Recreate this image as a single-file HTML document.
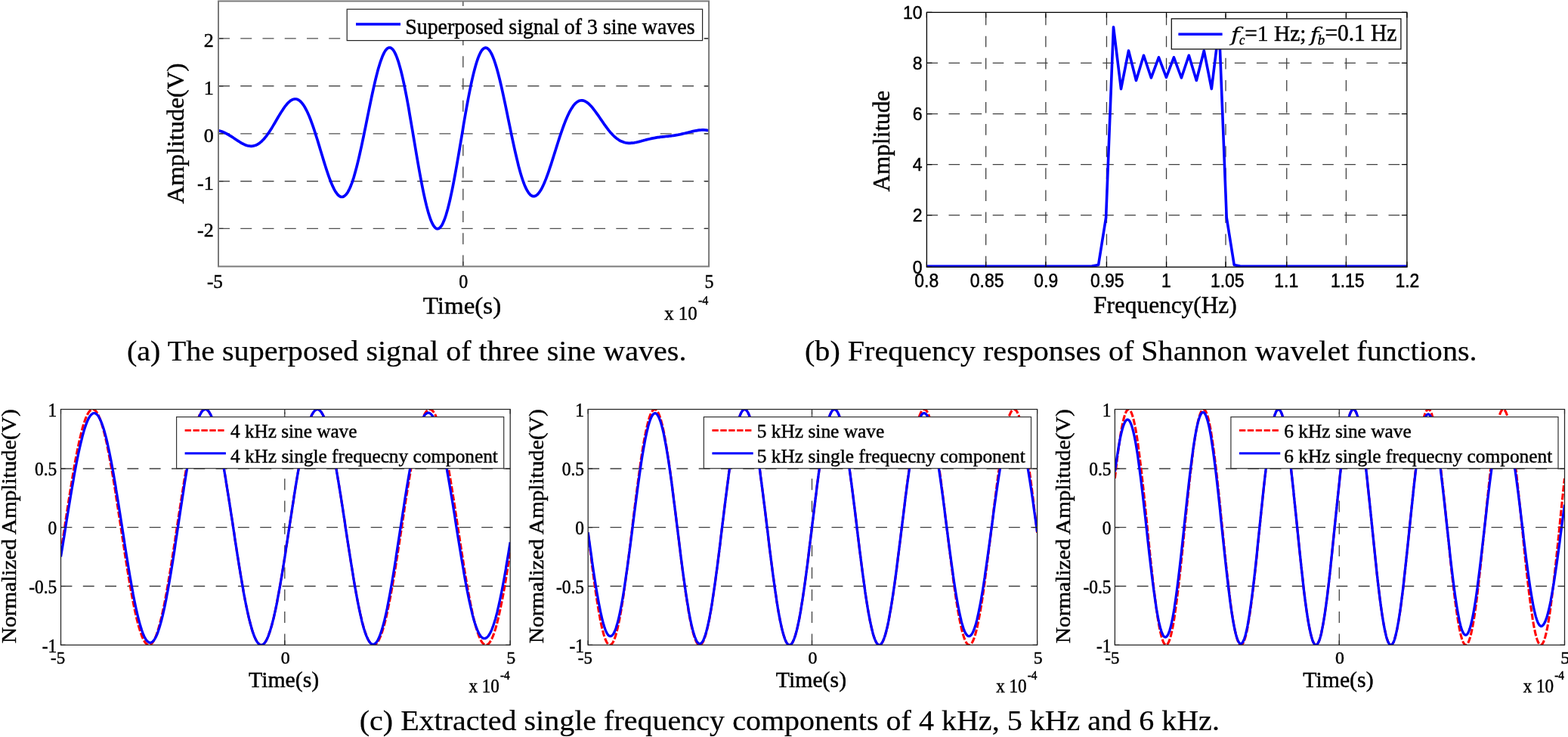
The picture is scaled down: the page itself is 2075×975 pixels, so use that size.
<!DOCTYPE html>
<html><head><meta charset="utf-8"><title>Figure</title>
<style>html,body{margin:0;padding:0;background:#fff;overflow:hidden}svg{display:block}</style>
</head><body>
<svg width="2075" height="975" viewBox="0 0 2075 975">
<rect width="2075" height="975" fill="#fff"/>
<defs><clipPath id="ca"><rect x="289.00" y="1.50" width="649.10" height="351.00"/></clipPath></defs>
<line x1="612.80" y1="352.50" x2="612.80" y2="1.50" stroke="#505050" stroke-width="1.4" stroke-dasharray="15 14.24"/>
<line x1="289.00" y1="302.40" x2="938.10" y2="302.40" stroke="#505050" stroke-width="1.4" stroke-dasharray="15 14.24"/>
<line x1="289.00" y1="239.70" x2="938.10" y2="239.70" stroke="#505050" stroke-width="1.4" stroke-dasharray="15 14.24"/>
<line x1="289.00" y1="176.90" x2="938.10" y2="176.90" stroke="#505050" stroke-width="1.4" stroke-dasharray="15 14.24"/>
<line x1="289.00" y1="113.80" x2="938.10" y2="113.80" stroke="#505050" stroke-width="1.4" stroke-dasharray="15 14.24"/>
<line x1="289.00" y1="50.90" x2="938.10" y2="50.90" stroke="#505050" stroke-width="1.4" stroke-dasharray="15 14.24"/>
<polyline points="289.0,172.7 290.3,173.0 291.6,173.4 292.9,173.8 294.2,174.3 295.5,174.8 296.8,175.4 298.1,176.0 299.4,176.6 300.7,177.3 302.0,178.0 303.3,178.8 304.6,179.6 305.9,180.4 307.2,181.2 308.5,182.1 309.8,183.0 311.1,183.8 312.4,184.7 313.7,185.6 315.0,186.4 316.3,187.2 317.6,188.1 318.9,188.8 320.2,189.6 321.5,190.2 322.8,190.9 324.1,191.5 325.3,192.0 326.6,192.4 327.9,192.8 329.2,193.0 330.5,193.2 331.8,193.3 333.1,193.3 334.4,193.2 335.7,193.0 337.0,192.6 338.3,192.2 339.6,191.6 340.9,191.0 342.2,190.2 343.5,189.3 344.8,188.2 346.1,187.1 347.4,185.8 348.7,184.5 350.0,183.0 351.3,181.4 352.6,179.8 353.9,178.0 355.2,176.2 356.5,174.2 357.8,172.2 359.1,170.2 360.4,168.1 361.7,165.9 363.0,163.7 364.3,161.5 365.6,159.3 366.9,157.0 368.2,154.8 369.5,152.6 370.8,150.5 372.1,148.4 373.4,146.4 374.7,144.4 376.0,142.5 377.3,140.7 378.6,139.1 379.9,137.5 381.2,136.1 382.5,134.9 383.8,133.8 385.1,132.8 386.4,132.1 387.7,131.5 389.0,131.2 390.3,131.0 391.6,131.0 392.9,131.3 394.2,131.8 395.5,132.5 396.8,133.4 398.0,134.6 399.3,136.0 400.6,137.6 401.9,139.4 403.2,141.5 404.5,143.8 405.8,146.3 407.1,149.0 408.4,151.9 409.7,155.0 411.0,158.3 412.3,161.8 413.6,165.4 414.9,169.2 416.2,173.0 417.5,177.1 418.8,181.2 420.1,185.3 421.4,189.6 422.7,193.9 424.0,198.2 425.3,202.5 426.6,206.8 427.9,211.1 429.2,215.4 430.5,219.5 431.8,223.6 433.1,227.5 434.4,231.3 435.7,235.0 437.0,238.5 438.3,241.8 439.6,244.9 440.9,247.7 442.2,250.3 443.5,252.7 444.8,254.7 446.1,256.5 447.4,258.0 448.7,259.1 450.0,259.9 451.3,260.4 452.6,260.5 453.9,260.3 455.2,259.7 456.5,258.8 457.8,257.5 459.1,255.9 460.4,253.9 461.7,251.5 463.0,248.8 464.3,245.7 465.6,242.3 466.9,238.6 468.2,234.5 469.4,230.2 470.7,225.6 472.0,220.7 473.3,215.5 474.6,210.1 475.9,204.5 477.2,198.7 478.5,192.8 479.8,186.7 481.1,180.5 482.4,174.2 483.7,167.8 485.0,161.3 486.3,154.9 487.6,148.5 488.9,142.1 490.2,135.8 491.5,129.6 492.8,123.5 494.1,117.6 495.4,111.8 496.7,106.3 498.0,101.0 499.3,95.9 500.6,91.1 501.9,86.7 503.2,82.5 504.5,78.8 505.8,75.3 507.1,72.3 508.4,69.7 509.7,67.4 511.0,65.7 512.3,64.3 513.6,63.4 514.9,63.0 516.2,63.0 517.5,63.5 518.8,64.4 520.1,65.8 521.4,67.7 522.7,70.1 524.0,72.9 525.3,76.1 526.6,79.8 527.9,83.9 529.2,88.4 530.5,93.2 531.8,98.5 533.1,104.1 534.4,110.0 535.7,116.3 537.0,122.8 538.3,129.5 539.6,136.5 540.9,143.7 542.1,151.1 543.4,158.6 544.7,166.2 546.0,173.8 547.3,181.6 548.6,189.3 549.9,197.0 551.2,204.7 552.5,212.2 553.8,219.7 555.1,227.0 556.4,234.1 557.7,241.0 559.0,247.7 560.3,254.1 561.6,260.2 562.9,265.9 564.2,271.4 565.5,276.4 566.8,281.1 568.1,285.3 569.4,289.2 570.7,292.5 572.0,295.4 573.3,297.9 574.6,299.8 575.9,301.3 577.2,302.2 578.5,302.7 579.8,302.6 581.1,302.1 582.4,301.0 583.7,299.4 585.0,297.4 586.3,294.8 587.6,291.8 588.9,288.4 590.2,284.5 591.5,280.1 592.8,275.4 594.1,270.2 595.4,264.8 596.7,258.9 598.0,252.8 599.3,246.3 600.6,239.6 601.9,232.7 603.2,225.5 604.5,218.2 605.8,210.8 607.1,203.2 608.4,195.6 609.7,187.9 611.0,180.2 612.3,172.5 613.5,164.8 614.8,157.3 616.1,149.8 617.4,142.5 618.7,135.4 620.0,128.5 621.3,121.8 622.6,115.4 623.9,109.2 625.2,103.4 626.5,97.8 627.8,92.7 629.1,87.9 630.4,83.5 631.7,79.5 633.0,75.9 634.3,72.7 635.6,70.0 636.9,67.7 638.2,65.9 639.5,64.6 640.8,63.7 642.1,63.2 643.4,63.3 644.7,63.8 646.0,64.7 647.3,66.1 648.6,67.9 649.9,70.1 651.2,72.7 652.5,75.8 653.8,79.2 655.1,83.0 656.4,87.1 657.7,91.5 659.0,96.3 660.3,101.3 661.6,106.5 662.9,112.0 664.2,117.7 665.5,123.6 666.8,129.6 668.1,135.7 669.4,141.9 670.7,148.2 672.0,154.6 673.3,160.9 674.6,167.2 675.9,173.5 677.2,179.8 678.5,185.9 679.8,191.9 681.1,197.8 682.4,203.5 683.7,209.0 685.0,214.4 686.2,219.5 687.5,224.3 688.8,228.9 690.1,233.2 691.4,237.2 692.7,241.0 694.0,244.4 695.3,247.4 696.6,250.2 697.9,252.6 699.2,254.6 700.5,256.3 701.8,257.7 703.1,258.7 704.4,259.4 705.7,259.7 707.0,259.7 708.3,259.3 709.6,258.6 710.9,257.6 712.2,256.3 713.5,254.7 714.8,252.8 716.1,250.7 717.4,248.3 718.7,245.6 720.0,242.7 721.3,239.6 722.6,236.4 723.9,232.9 725.2,229.3 726.5,225.6 727.8,221.7 729.1,217.8 730.4,213.7 731.7,209.6 733.0,205.5 734.3,201.4 735.6,197.2 736.9,193.1 738.2,189.0 739.5,184.9 740.8,180.9 742.1,177.1 743.4,173.3 744.7,169.6 746.0,166.0 747.3,162.6 748.6,159.3 749.9,156.2 751.2,153.3 752.5,150.5 753.8,147.9 755.1,145.6 756.4,143.4 757.7,141.4 758.9,139.6 760.2,138.1 761.5,136.7 762.8,135.6 764.1,134.6 765.4,133.9 766.7,133.3 768.0,133.0 769.3,132.9 770.6,132.9 771.9,133.1 773.2,133.5 774.5,134.1 775.8,134.8 777.1,135.7 778.4,136.7 779.7,137.9 781.0,139.2 782.3,140.6 783.6,142.0 784.9,143.6 786.2,145.3 787.5,147.0 788.8,148.8 790.1,150.6 791.4,152.4 792.7,154.3 794.0,156.2 795.3,158.1 796.6,160.0 797.9,161.9 799.2,163.8 800.5,165.6 801.8,167.4 803.1,169.2 804.4,170.9 805.7,172.6 807.0,174.2 808.3,175.7 809.6,177.1 810.9,178.5 812.2,179.8 813.5,181.0 814.8,182.1 816.1,183.2 817.4,184.1 818.7,185.0 820.0,185.8 821.3,186.5 822.6,187.1 823.9,187.6 825.2,188.1 826.5,188.5 827.8,188.8 829.1,189.0 830.3,189.2 831.6,189.3 832.9,189.3 834.2,189.3 835.5,189.2 836.8,189.1 838.1,189.0 839.4,188.8 840.7,188.5 842.0,188.3 843.3,188.0 844.6,187.7 845.9,187.4 847.2,187.0 848.5,186.7 849.8,186.3 851.1,186.0 852.4,185.6 853.7,185.3 855.0,184.9 856.3,184.6 857.6,184.3 858.9,184.0 860.2,183.7 861.5,183.4 862.8,183.1 864.1,182.8 865.4,182.6 866.7,182.4 868.0,182.1 869.3,181.9 870.6,181.7 871.9,181.6 873.2,181.4 874.5,181.2 875.8,181.1 877.1,180.9 878.4,180.8 879.7,180.7 881.0,180.5 882.3,180.4 883.6,180.3 884.9,180.1 886.2,180.0 887.5,179.8 888.8,179.7 890.1,179.5 891.4,179.3 892.7,179.1 894.0,178.9 895.3,178.7 896.6,178.5 897.9,178.2 899.2,178.0 900.5,177.7 901.8,177.4 903.0,177.1 904.3,176.8 905.6,176.5 906.9,176.2 908.2,175.9 909.5,175.5 910.8,175.2 912.1,174.9 913.4,174.5 914.7,174.2 916.0,173.9 917.3,173.6 918.6,173.3 919.9,173.0 921.2,172.8 922.5,172.6 923.8,172.4 925.1,172.2 926.4,172.1 927.7,172.0 929.0,171.9 930.3,171.9 931.6,171.9 932.9,172.0 934.2,172.1 935.5,172.3 936.8,172.5 938.1,172.7" fill="none" stroke="#0000ff" stroke-width="3.7" stroke-linejoin="round" clip-path="url(#ca)"/>
<path d="M289.00 352.50V346.00M289.00 1.50V8.00M612.80 352.50V346.00M612.80 1.50V8.00M938.10 352.50V346.00M938.10 1.50V8.00M289.00 302.40H295.50M938.10 302.40H931.60M289.00 239.70H295.50M938.10 239.70H931.60M289.00 176.90H295.50M938.10 176.90H931.60M289.00 113.80H295.50M938.10 113.80H931.60M289.00 50.90H295.50M938.10 50.90H931.60" stroke="#303030" stroke-width="1.2" fill="none"/>
<rect x="289.00" y="1.50" width="649.10" height="351.00" stroke="#7a7a7a" stroke-width="2" fill="none"/>
<g transform="matrix(1.0455 0 0 1.0235 282.75 61.70)"><text x="0" y="0" font-size="25" font-family="Liberation Serif, Times New Roman, serif" text-anchor="end" stroke="#000" stroke-width="0.45">2</text></g>
<g transform="matrix(1.0455 0 0 1.0235 282.75 124.60)"><text x="0" y="0" font-size="25" font-family="Liberation Serif, Times New Roman, serif" text-anchor="end" stroke="#000" stroke-width="0.45">1</text></g>
<g transform="matrix(1.0455 0 0 1.0235 282.75 187.70)"><text x="0" y="0" font-size="25" font-family="Liberation Serif, Times New Roman, serif" text-anchor="end" stroke="#000" stroke-width="0.45">0</text></g>
<g transform="matrix(1.0455 0 0 1.0235 282.75 250.50)"><text x="0" y="0" font-size="25" font-family="Liberation Serif, Times New Roman, serif" text-anchor="end" stroke="#000" stroke-width="0.45">-1</text></g>
<g transform="matrix(1.0455 0 0 1.0235 282.75 313.20)"><text x="0" y="0" font-size="25" font-family="Liberation Serif, Times New Roman, serif" text-anchor="end" stroke="#000" stroke-width="0.45">-2</text></g>
<g transform="matrix(1.0053 0 0 0.9765 273.99 380.80)"><text x="0" y="0" font-size="25" font-family="Liberation Serif, Times New Roman, serif" text-anchor="start" stroke="#000" stroke-width="0.45">-5</text></g>
<g transform="matrix(0.9583 0 0 1.0176 613.15 380.90)"><text x="0" y="0" font-size="25" font-family="Liberation Serif, Times New Roman, serif" text-anchor="middle" stroke="#000" stroke-width="0.45">0</text></g>
<g transform="matrix(0.9583 0 0 1.0176 938.45 380.90)"><text x="0" y="0" font-size="25" font-family="Liberation Serif, Times New Roman, serif" text-anchor="middle" stroke="#000" stroke-width="0.45">5</text></g>
<g transform="matrix(1.0010 0 0 0.9710 559.80 415.20)"><text x="0" y="0" font-size="33" font-family="Liberation Serif, Times New Roman, serif" text-anchor="start" stroke="#000" stroke-width="0.45">Time(s)</text></g>
<g transform="matrix(0.9419 0 0 0.9935 243.21 269.40)"><text x="0" y="0" font-size="33" font-family="Liberation Serif, Times New Roman, serif" text-anchor="start" transform="rotate(-90)" stroke="#000" stroke-width="0.45">Amplitude(V)</text></g>
<g transform="matrix(0.9953 0 0 1.0412 879.20 422.70)"><text x="0" y="0" font-size="25" font-family="Liberation Serif, Times New Roman, serif" text-anchor="start" stroke="#000" stroke-width="0.45">x 10</text></g>
<g transform="matrix(0.9500 0 0 1.0364 924.00 403.40)"><text x="0" y="0" font-size="17" font-family="Liberation Serif, Times New Roman, serif" text-anchor="start" stroke="#000" stroke-width="0.45">-4</text></g>
<rect x="459.2" y="12.2" width="470.4" height="41.4" fill="#fff" stroke="#222" stroke-width="1.2"/>
<line x1="471" y1="32" x2="530" y2="32" stroke="#0000ff" stroke-width="3.7"/>
<g transform="matrix(0.9961 0 0 1.0200 536.21 45.48)"><text x="0" y="0" font-size="28" font-family="Liberation Serif, Times New Roman, serif" text-anchor="start" stroke="#000" stroke-width="0.45">Superposed signal of 3 sine waves</text></g>
<line x1="1304.65" y1="353.30" x2="1304.65" y2="16.40" stroke="#404040" stroke-width="1.3" stroke-dasharray="14.6 14.5"/>
<line x1="1383.90" y1="353.30" x2="1383.90" y2="16.40" stroke="#404040" stroke-width="1.3" stroke-dasharray="14.6 14.5"/>
<line x1="1464.45" y1="353.30" x2="1464.45" y2="16.40" stroke="#404040" stroke-width="1.3" stroke-dasharray="14.6 14.5"/>
<line x1="1543.55" y1="353.30" x2="1543.55" y2="16.40" stroke="#404040" stroke-width="1.3" stroke-dasharray="14.6 14.5"/>
<line x1="1622.00" y1="353.30" x2="1622.00" y2="16.40" stroke="#404040" stroke-width="1.3" stroke-dasharray="14.6 14.5"/>
<line x1="1702.75" y1="353.30" x2="1702.75" y2="16.40" stroke="#404040" stroke-width="1.3" stroke-dasharray="14.6 14.5"/>
<line x1="1781.40" y1="353.30" x2="1781.40" y2="16.40" stroke="#404040" stroke-width="1.3" stroke-dasharray="14.6 14.5"/>
<line x1="1226.40" y1="284.60" x2="1861.90" y2="284.60" stroke="#404040" stroke-width="1.3" stroke-dasharray="14.6 14.5"/>
<line x1="1226.40" y1="217.70" x2="1861.90" y2="217.70" stroke="#404040" stroke-width="1.3" stroke-dasharray="14.6 14.5"/>
<line x1="1226.40" y1="150.70" x2="1861.90" y2="150.70" stroke="#404040" stroke-width="1.3" stroke-dasharray="14.6 14.5"/>
<line x1="1226.40" y1="83.47" x2="1861.90" y2="83.47" stroke="#404040" stroke-width="1.3" stroke-dasharray="14.6 14.5"/>
<polyline points="1226.4,352.2 1445.0,352.1 1453.6,350.5 1463.6,287.8 1473.5,35.7 1483.5,117.6 1493.5,67.0 1503.5,106.5 1513.5,73.3 1523.4,103.0 1533.4,75.8 1543.4,102.3 1553.4,75.8 1563.4,103.0 1573.3,73.3 1583.3,106.5 1593.3,67.0 1603.3,117.6 1613.3,35.7 1623.2,287.8 1633.2,350.5 1641.0,352.1 1862.3,352.3" fill="none" stroke="#0000ff" stroke-width="3.6" stroke-linejoin="round"/>
<path d="M1226.40 353.30V346.30M1226.40 16.40V23.40M1304.65 353.30V346.30M1304.65 16.40V23.40M1383.90 353.30V346.30M1383.90 16.40V23.40M1464.45 353.30V346.30M1464.45 16.40V23.40M1543.55 353.30V346.30M1543.55 16.40V23.40M1622.00 353.30V346.30M1622.00 16.40V23.40M1702.75 353.30V346.30M1702.75 16.40V23.40M1781.40 353.30V346.30M1781.40 16.40V23.40M1861.90 353.30V346.30M1861.90 16.40V23.40M1226.40 353.30H1233.40M1861.90 353.30H1854.90M1226.40 284.60H1233.40M1861.90 284.60H1854.90M1226.40 217.70H1233.40M1861.90 217.70H1854.90M1226.40 150.70H1233.40M1861.90 150.70H1854.90M1226.40 83.47H1233.40M1861.90 83.47H1854.90M1226.40 16.40H1233.40M1861.90 16.40H1854.90" stroke="#000" stroke-width="1.2" fill="none"/>
<rect x="1226.40" y="16.40" width="635.50" height="336.90" stroke="#000" stroke-width="1.3" fill="none"/>
<g transform="matrix(1.0261 0 0 1.0933 1220.63 25.00)"><text x="0" y="0" font-size="22.5" font-family="Liberation Sans, Arial, sans-serif" text-anchor="end" stroke="#000" stroke-width="0.45">10</text></g>
<g transform="matrix(1.0261 0 0 1.0933 1220.63 92.07)"><text x="0" y="0" font-size="22.5" font-family="Liberation Sans, Arial, sans-serif" text-anchor="end" stroke="#000" stroke-width="0.45">8</text></g>
<g transform="matrix(1.0261 0 0 1.0933 1220.63 159.30)"><text x="0" y="0" font-size="22.5" font-family="Liberation Sans, Arial, sans-serif" text-anchor="end" stroke="#000" stroke-width="0.45">6</text></g>
<g transform="matrix(1.0261 0 0 1.0933 1220.63 226.30)"><text x="0" y="0" font-size="22.5" font-family="Liberation Sans, Arial, sans-serif" text-anchor="end" stroke="#000" stroke-width="0.45">4</text></g>
<g transform="matrix(1.0261 0 0 1.0933 1220.63 293.20)"><text x="0" y="0" font-size="22.5" font-family="Liberation Sans, Arial, sans-serif" text-anchor="end" stroke="#000" stroke-width="0.45">2</text></g>
<g transform="matrix(1.0261 0 0 1.0933 1220.63 361.90)"><text x="0" y="0" font-size="22.5" font-family="Liberation Sans, Arial, sans-serif" text-anchor="end" stroke="#000" stroke-width="0.45">0</text></g>
<g transform="matrix(1.0167 0 0 1.1133 1226.25 380.00)"><text x="0" y="0" font-size="22.5" font-family="Liberation Sans, Arial, sans-serif" text-anchor="middle" stroke="#000" stroke-width="0.45">0.8</text></g>
<g transform="matrix(1.0167 0 0 1.1133 1306.10 380.00)"><text x="0" y="0" font-size="22.5" font-family="Liberation Sans, Arial, sans-serif" text-anchor="middle" stroke="#000" stroke-width="0.45">0.85</text></g>
<g transform="matrix(1.0167 0 0 1.1133 1384.20 380.00)"><text x="0" y="0" font-size="22.5" font-family="Liberation Sans, Arial, sans-serif" text-anchor="middle" stroke="#000" stroke-width="0.45">0.9</text></g>
<g transform="matrix(1.0167 0 0 1.1133 1465.20 380.00)"><text x="0" y="0" font-size="22.5" font-family="Liberation Sans, Arial, sans-serif" text-anchor="middle" stroke="#000" stroke-width="0.45">0.95</text></g>
<g transform="matrix(1.0167 0 0 1.1133 1543.40 380.00)"><text x="0" y="0" font-size="22.5" font-family="Liberation Sans, Arial, sans-serif" text-anchor="middle" stroke="#000" stroke-width="0.45">1</text></g>
<g transform="matrix(1.0167 0 0 1.1133 1624.20 380.00)"><text x="0" y="0" font-size="22.5" font-family="Liberation Sans, Arial, sans-serif" text-anchor="middle" stroke="#000" stroke-width="0.45">1.05</text></g>
<g transform="matrix(1.0167 0 0 1.1133 1702.20 380.00)"><text x="0" y="0" font-size="22.5" font-family="Liberation Sans, Arial, sans-serif" text-anchor="middle" stroke="#000" stroke-width="0.45">1.1</text></g>
<g transform="matrix(1.0167 0 0 1.1133 1783.30 380.00)"><text x="0" y="0" font-size="22.5" font-family="Liberation Sans, Arial, sans-serif" text-anchor="middle" stroke="#000" stroke-width="0.45">1.15</text></g>
<g transform="matrix(1.0167 0 0 1.1133 1862.30 380.00)"><text x="0" y="0" font-size="22.5" font-family="Liberation Sans, Arial, sans-serif" text-anchor="middle" stroke="#000" stroke-width="0.45">1.2</text></g>
<g transform="matrix(0.9797 0 0 0.9966 1447.02 414.02)"><text x="0" y="0" font-size="32" font-family="Liberation Serif, Times New Roman, serif" text-anchor="start" stroke="#000" stroke-width="0.45">Frequency(Hz)</text></g>
<g transform="matrix(0.9600 0 0 0.9772 1176.88 253.50)"><text x="0" y="0" font-size="32" font-family="Liberation Serif, Times New Roman, serif" text-anchor="start" transform="rotate(-90)" stroke="#000" stroke-width="0.45">Amplitude</text></g>
<rect x="1550.3" y="24.8" width="303.6" height="40.2" fill="#fff" stroke="#111" stroke-width="1.3"/>
<line x1="1559.4" y1="45.3" x2="1617.6" y2="45.3" stroke="#0000ff" stroke-width="3.6"/>
<g transform="matrix(1.2062 0 0 0.9889 1628.81 54.77)"><text x="0" y="0" font-size="27" font-family="DejaVu Serif, serif" font-style="italic" text-anchor="start" stroke="#000" stroke-width="0.05">f</text></g>
<g transform="matrix(0.8333 0 0 0.8900 1640.00 58.80)"><text x="0" y="0" font-size="20" font-family="Liberation Serif, Times New Roman, serif" font-style="italic" text-anchor="start" stroke="#000" stroke-width="0.45">c</text></g>
<g transform="matrix(1.0143 0 0 1.0208 1647.29 53.70)"><text x="0" y="0" font-size="29" font-family="Liberation Serif, Times New Roman, serif" text-anchor="start" stroke="#000" stroke-width="0.45">=1 Hz;</text></g>
<g transform="matrix(1.2125 0 0 0.9852 1733.42 54.79)"><text x="0" y="0" font-size="27" font-family="DejaVu Serif, serif" font-style="italic" text-anchor="start" stroke="#000" stroke-width="0.05">f</text></g>
<g transform="matrix(0.9444 0 0 0.8929 1743.76 58.80)"><text x="0" y="0" font-size="20" font-family="Liberation Serif, Times New Roman, serif" font-style="italic" text-anchor="start" stroke="#000" stroke-width="0.45">b</text></g>
<g transform="matrix(1.0152 0 0 1.0526 1753.38 54.40)"><text x="0" y="0" font-size="29" font-family="Liberation Serif, Times New Roman, serif" text-anchor="start" stroke="#000" stroke-width="0.45">=0.1 Hz</text></g>
<defs><clipPath id="cc1"><rect x="80.50" y="541.50" width="594.70" height="311.80"/></clipPath></defs>
<line x1="376.80" y1="853.30" x2="376.80" y2="541.50" stroke="#404040" stroke-width="1.3" stroke-dasharray="14.9 14.4"/>
<line x1="80.50" y1="775.50" x2="675.20" y2="775.50" stroke="#404040" stroke-width="1.3" stroke-dasharray="14.9 14.4"/>
<line x1="80.50" y1="697.70" x2="675.20" y2="697.70" stroke="#404040" stroke-width="1.3" stroke-dasharray="14.9 14.4"/>
<line x1="80.50" y1="620.00" x2="675.20" y2="620.00" stroke="#404040" stroke-width="1.3" stroke-dasharray="14.9 14.4"/>
<polyline points="80.5,730.5 81.1,726.6 81.7,722.8 82.3,718.9 82.9,715.0 83.5,711.1 84.1,707.2 84.7,703.3 85.3,699.4 85.9,695.4 86.4,691.5 87.0,687.6 87.6,683.7 88.2,679.8 88.8,675.9 89.4,672.0 90.0,668.2 90.6,664.3 91.2,660.5 91.8,656.7 92.4,653.0 93.0,649.2 93.6,645.5 94.2,641.8 94.8,638.2 95.4,634.6 96.0,631.0 96.6,627.5 97.2,624.0 97.7,620.6 98.3,617.2 98.9,613.9 99.5,610.6 100.1,607.4 100.7,604.2 101.3,601.1 101.9,598.0 102.5,595.0 103.1,592.1 103.7,589.3 104.3,586.5 104.9,583.8 105.5,581.1 106.1,578.5 106.7,576.0 107.3,573.6 107.9,571.3 108.5,569.0 109.0,566.8 109.6,564.7 110.2,562.7 110.8,560.8 111.4,558.9 112.0,557.2 112.6,555.5 113.2,553.9 113.8,552.4 114.4,551.1 115.0,549.7 115.6,548.5 116.2,547.4 116.8,546.4 117.4,545.5 118.0,544.6 118.6,543.9 119.2,543.3 119.8,542.7 120.3,542.3 120.9,541.9 121.5,541.7 122.1,541.5 122.7,541.5 123.3,541.5 123.9,541.7 124.5,541.9 125.1,542.3 125.7,542.7 126.3,543.3 126.9,543.9 127.5,544.6 128.1,545.5 128.7,546.4 129.3,547.4 129.9,548.5 130.5,549.7 131.0,551.1 131.6,552.4 132.2,553.9 132.8,555.5 133.4,557.2 134.0,558.9 134.6,560.8 135.2,562.7 135.8,564.7 136.4,566.8 137.0,569.0 137.6,571.3 138.2,573.6 138.8,576.0 139.4,578.5 140.0,581.1 140.6,583.8 141.2,586.5 141.8,589.3 142.3,592.1 142.9,595.0 143.5,598.0 144.1,601.1 144.7,604.2 145.3,607.4 145.9,610.6 146.5,613.9 147.1,617.2 147.7,620.6 148.3,624.0 148.9,627.5 149.5,631.0 150.1,634.6 150.7,638.2 151.3,641.8 151.9,645.5 152.5,649.2 153.1,653.0 153.6,656.7 154.2,660.5 154.8,664.3 155.4,668.2 156.0,672.0 156.6,675.9 157.2,679.8 157.8,683.7 158.4,687.6 159.0,691.5 159.6,695.4 160.2,699.4 160.8,703.3 161.4,707.2 162.0,711.1 162.6,715.0 163.2,718.9 163.8,722.8 164.4,726.6 164.9,730.5 165.5,734.3 166.1,738.1 166.7,741.8 167.3,745.6 167.9,749.3 168.5,753.0 169.1,756.6 169.7,760.2 170.3,763.8 170.9,767.3 171.5,770.8 172.1,774.2 172.7,777.6 173.3,780.9 173.9,784.2 174.5,787.4 175.1,790.6 175.7,793.7 176.2,796.8 176.8,799.8 177.4,802.7 178.0,805.5 178.6,808.3 179.2,811.0 179.8,813.7 180.4,816.3 181.0,818.8 181.6,821.2 182.2,823.5 182.8,825.8 183.4,828.0 184.0,830.1 184.6,832.1 185.2,834.0 185.8,835.9 186.4,837.6 187.0,839.3 187.5,840.9 188.1,842.4 188.7,843.7 189.3,845.1 189.9,846.3 190.5,847.4 191.1,848.4 191.7,849.3 192.3,850.2 192.9,850.9 193.5,851.5 194.1,852.1 194.7,852.5 195.3,852.9 195.9,853.1 196.5,853.3 197.1,853.3 197.7,853.3 198.3,853.1 198.8,852.9 199.4,852.5 200.0,852.1 200.6,851.5 201.2,850.9 201.8,850.2 202.4,849.3 203.0,848.4 203.6,847.4 204.2,846.3 204.8,845.1 205.4,843.7 206.0,842.4 206.6,840.9 207.2,839.3 207.8,837.6 208.4,835.9 209.0,834.0 209.5,832.1 210.1,830.1 210.7,828.0 211.3,825.8 211.9,823.5 212.5,821.2 213.1,818.8 213.7,816.3 214.3,813.7 214.9,811.0 215.5,808.3 216.1,805.5 216.7,802.7 217.3,799.8 217.9,796.8 218.5,793.7 219.1,790.6 219.7,787.4 220.3,784.2 220.8,780.9 221.4,777.6 222.0,774.2 222.6,770.8 223.2,767.3 223.8,763.8 224.4,760.2 225.0,756.6 225.6,753.0 226.2,749.3 226.8,745.6 227.4,741.8 228.0,738.1 228.6,734.3 229.2,730.5 229.8,726.6 230.4,722.8 231.0,718.9 231.6,715.0 232.1,711.1 232.7,707.2 233.3,703.3 233.9,699.4 234.5,695.4 235.1,691.5 235.7,687.6 236.3,683.7 236.9,679.8 237.5,675.9 238.1,672.0 238.7,668.2 239.3,664.3 239.9,660.5 240.5,656.7 241.1,653.0 241.7,649.2 242.3,645.5 242.9,641.8 243.4,638.2 244.0,634.6 244.6,631.0 245.2,627.5 245.8,624.0 246.4,620.6 247.0,617.2 247.6,613.9 248.2,610.6 248.8,607.4 249.4,604.2 250.0,601.1 250.6,598.0 251.2,595.0 251.8,592.1 252.4,589.3 253.0,586.5 253.6,583.8 254.2,581.1 254.7,578.5 255.3,576.0 255.9,573.6 256.5,571.3 257.1,569.0 257.7,566.8 258.3,564.7 258.9,562.7 259.5,560.8 260.1,558.9 260.7,557.2 261.3,555.5 261.9,553.9 262.5,552.4 263.1,551.1 263.7,549.7 264.3,548.5 264.9,547.4 265.5,546.4 266.0,545.5 266.6,544.6 267.2,543.9 267.8,543.3 268.4,542.7 269.0,542.3 269.6,541.9 270.2,541.7 270.8,541.5 271.4,541.5 272.0,541.5 272.6,541.7 273.2,541.9 273.8,542.3 274.4,542.7 275.0,543.3 275.6,543.9 276.2,544.6 276.8,545.5 277.3,546.4 277.9,547.4 278.5,548.5 279.1,549.7 279.7,551.1 280.3,552.4 280.9,553.9 281.5,555.5 282.1,557.2 282.7,558.9 283.3,560.8 283.9,562.7 284.5,564.7 285.1,566.8 285.7,569.0 286.3,571.3 286.9,573.6 287.5,576.0 288.1,578.5 288.6,581.1 289.2,583.8 289.8,586.5 290.4,589.3 291.0,592.1 291.6,595.0 292.2,598.0 292.8,601.1 293.4,604.2 294.0,607.4 294.6,610.6 295.2,613.9 295.8,617.2 296.4,620.6 297.0,624.0 297.6,627.5 298.2,631.0 298.8,634.6 299.3,638.2 299.9,641.8 300.5,645.5 301.1,649.2 301.7,653.0 302.3,656.7 302.9,660.5 303.5,664.3 304.1,668.2 304.7,672.0 305.3,675.9 305.9,679.8 306.5,683.7 307.1,687.6 307.7,691.5 308.3,695.4 308.9,699.4 309.5,703.3 310.1,707.2 310.6,711.1 311.2,715.0 311.8,718.9 312.4,722.8 313.0,726.6 313.6,730.5 314.2,734.3 314.8,738.1 315.4,741.8 316.0,745.6 316.6,749.3 317.2,753.0 317.8,756.6 318.4,760.2 319.0,763.8 319.6,767.3 320.2,770.8 320.8,774.2 321.4,777.6 321.9,780.9 322.5,784.2 323.1,787.4 323.7,790.6 324.3,793.7 324.9,796.8 325.5,799.8 326.1,802.7 326.7,805.5 327.3,808.3 327.9,811.0 328.5,813.7 329.1,816.3 329.7,818.8 330.3,821.2 330.9,823.5 331.5,825.8 332.1,828.0 332.7,830.1 333.2,832.1 333.8,834.0 334.4,835.9 335.0,837.6 335.6,839.3 336.2,840.9 336.8,842.4 337.4,843.7 338.0,845.1 338.6,846.3 339.2,847.4 339.8,848.4 340.4,849.3 341.0,850.2 341.6,850.9 342.2,851.5 342.8,852.1 343.4,852.5 344.0,852.9 344.5,853.1 345.1,853.3 345.7,853.3 346.3,853.3 346.9,853.1 347.5,852.9 348.1,852.5 348.7,852.1 349.3,851.5 349.9,850.9 350.5,850.2 351.1,849.3 351.7,848.4 352.3,847.4 352.9,846.3 353.5,845.1 354.1,843.7 354.7,842.4 355.3,840.9 355.8,839.3 356.4,837.6 357.0,835.9 357.6,834.0 358.2,832.1 358.8,830.1 359.4,828.0 360.0,825.8 360.6,823.5 361.2,821.2 361.8,818.8 362.4,816.3 363.0,813.7 363.6,811.0 364.2,808.3 364.8,805.5 365.4,802.7 366.0,799.8 366.6,796.8 367.1,793.7 367.7,790.6 368.3,787.4 368.9,784.2 369.5,780.9 370.1,777.6 370.7,774.2 371.3,770.8 371.9,767.3 372.5,763.8 373.1,760.2 373.7,756.6 374.3,753.0 374.9,749.3 375.5,745.6 376.1,741.8 376.7,738.1 377.3,734.3 377.8,730.5 378.4,726.6 379.0,722.8 379.6,718.9 380.2,715.0 380.8,711.1 381.4,707.2 382.0,703.3 382.6,699.4 383.2,695.4 383.8,691.5 384.4,687.6 385.0,683.7 385.6,679.8 386.2,675.9 386.8,672.0 387.4,668.2 388.0,664.3 388.6,660.5 389.1,656.7 389.7,653.0 390.3,649.2 390.9,645.5 391.5,641.8 392.1,638.2 392.7,634.6 393.3,631.0 393.9,627.5 394.5,624.0 395.1,620.6 395.7,617.2 396.3,613.9 396.9,610.6 397.5,607.4 398.1,604.2 398.7,601.1 399.3,598.0 399.9,595.0 400.4,592.1 401.0,589.3 401.6,586.5 402.2,583.8 402.8,581.1 403.4,578.5 404.0,576.0 404.6,573.6 405.2,571.3 405.8,569.0 406.4,566.8 407.0,564.7 407.6,562.7 408.2,560.8 408.8,558.9 409.4,557.2 410.0,555.5 410.6,553.9 411.2,552.4 411.7,551.1 412.3,549.7 412.9,548.5 413.5,547.4 414.1,546.4 414.7,545.5 415.3,544.6 415.9,543.9 416.5,543.3 417.1,542.7 417.7,542.3 418.3,541.9 418.9,541.7 419.5,541.5 420.1,541.5 420.7,541.5 421.3,541.7 421.9,541.9 422.5,542.3 423.0,542.7 423.6,543.3 424.2,543.9 424.8,544.6 425.4,545.5 426.0,546.4 426.6,547.4 427.2,548.5 427.8,549.7 428.4,551.1 429.0,552.4 429.6,553.9 430.2,555.5 430.8,557.2 431.4,558.9 432.0,560.8 432.6,562.7 433.2,564.7 433.8,566.8 434.3,569.0 434.9,571.3 435.5,573.6 436.1,576.0 436.7,578.5 437.3,581.1 437.9,583.8 438.5,586.5 439.1,589.3 439.7,592.1 440.3,595.0 440.9,598.0 441.5,601.1 442.1,604.2 442.7,607.4 443.3,610.6 443.9,613.9 444.5,617.2 445.1,620.6 445.6,624.0 446.2,627.5 446.8,631.0 447.4,634.6 448.0,638.2 448.6,641.8 449.2,645.5 449.8,649.2 450.4,653.0 451.0,656.7 451.6,660.5 452.2,664.3 452.8,668.2 453.4,672.0 454.0,675.9 454.6,679.8 455.2,683.7 455.8,687.6 456.4,691.5 456.9,695.4 457.5,699.4 458.1,703.3 458.7,707.2 459.3,711.1 459.9,715.0 460.5,718.9 461.1,722.8 461.7,726.6 462.3,730.5 462.9,734.3 463.5,738.1 464.1,741.8 464.7,745.6 465.3,749.3 465.9,753.0 466.5,756.6 467.1,760.2 467.6,763.8 468.2,767.3 468.8,770.8 469.4,774.2 470.0,777.6 470.6,780.9 471.2,784.2 471.8,787.4 472.4,790.6 473.0,793.7 473.6,796.8 474.2,799.8 474.8,802.7 475.4,805.5 476.0,808.3 476.6,811.0 477.2,813.7 477.8,816.3 478.4,818.8 478.9,821.2 479.5,823.5 480.1,825.8 480.7,828.0 481.3,830.1 481.9,832.1 482.5,834.0 483.1,835.9 483.7,837.6 484.3,839.3 484.9,840.9 485.5,842.4 486.1,843.7 486.7,845.1 487.3,846.3 487.9,847.4 488.5,848.4 489.1,849.3 489.7,850.2 490.2,850.9 490.8,851.5 491.4,852.1 492.0,852.5 492.6,852.9 493.2,853.1 493.8,853.3 494.4,853.3 495.0,853.3 495.6,853.1 496.2,852.9 496.8,852.5 497.4,852.1 498.0,851.5 498.6,850.9 499.2,850.2 499.8,849.3 500.4,848.4 501.0,847.4 501.5,846.3 502.1,845.1 502.7,843.7 503.3,842.4 503.9,840.9 504.5,839.3 505.1,837.6 505.7,835.9 506.3,834.0 506.9,832.1 507.5,830.1 508.1,828.0 508.7,825.8 509.3,823.5 509.9,821.2 510.5,818.8 511.1,816.3 511.7,813.7 512.3,811.0 512.8,808.3 513.4,805.5 514.0,802.7 514.6,799.8 515.2,796.8 515.8,793.7 516.4,790.6 517.0,787.4 517.6,784.2 518.2,780.9 518.8,777.6 519.4,774.2 520.0,770.8 520.6,767.3 521.2,763.8 521.8,760.2 522.4,756.6 523.0,753.0 523.6,749.3 524.1,745.6 524.7,741.8 525.3,738.1 525.9,734.3 526.5,730.5 527.1,726.6 527.7,722.8 528.3,718.9 528.9,715.0 529.5,711.1 530.1,707.2 530.7,703.3 531.3,699.4 531.9,695.4 532.5,691.5 533.1,687.6 533.7,683.7 534.3,679.8 534.9,675.9 535.4,672.0 536.0,668.2 536.6,664.3 537.2,660.5 537.8,656.7 538.4,653.0 539.0,649.2 539.6,645.5 540.2,641.8 540.8,638.2 541.4,634.6 542.0,631.0 542.6,627.5 543.2,624.0 543.8,620.6 544.4,617.2 545.0,613.9 545.6,610.6 546.2,607.4 546.7,604.2 547.3,601.1 547.9,598.0 548.5,595.0 549.1,592.1 549.7,589.3 550.3,586.5 550.9,583.8 551.5,581.1 552.1,578.5 552.7,576.0 553.3,573.6 553.9,571.3 554.5,569.0 555.1,566.8 555.7,564.7 556.3,562.7 556.9,560.8 557.4,558.9 558.0,557.2 558.6,555.5 559.2,553.9 559.8,552.4 560.4,551.1 561.0,549.7 561.6,548.5 562.2,547.4 562.8,546.4 563.4,545.5 564.0,544.6 564.6,543.9 565.2,543.3 565.8,542.7 566.4,542.3 567.0,541.9 567.6,541.7 568.2,541.5 568.7,541.5 569.3,541.5 569.9,541.7 570.5,541.9 571.1,542.3 571.7,542.7 572.3,543.3 572.9,543.9 573.5,544.6 574.1,545.5 574.7,546.4 575.3,547.4 575.9,548.5 576.5,549.7 577.1,551.1 577.7,552.4 578.3,553.9 578.9,555.5 579.5,557.2 580.0,558.9 580.6,560.8 581.2,562.7 581.8,564.7 582.4,566.8 583.0,569.0 583.6,571.3 584.2,573.6 584.8,576.0 585.4,578.5 586.0,581.1 586.6,583.8 587.2,586.5 587.8,589.3 588.4,592.1 589.0,595.0 589.6,598.0 590.2,601.1 590.8,604.2 591.3,607.4 591.9,610.6 592.5,613.9 593.1,617.2 593.7,620.6 594.3,624.0 594.9,627.5 595.5,631.0 596.1,634.6 596.7,638.2 597.3,641.8 597.9,645.5 598.5,649.2 599.1,653.0 599.7,656.7 600.3,660.5 600.9,664.3 601.5,668.2 602.1,672.0 602.6,675.9 603.2,679.8 603.8,683.7 604.4,687.6 605.0,691.5 605.6,695.4 606.2,699.4 606.8,703.3 607.4,707.2 608.0,711.1 608.6,715.0 609.2,718.9 609.8,722.8 610.4,726.6 611.0,730.5 611.6,734.3 612.2,738.1 612.8,741.8 613.4,745.6 613.9,749.3 614.5,753.0 615.1,756.6 615.7,760.2 616.3,763.8 616.9,767.3 617.5,770.8 618.1,774.2 618.7,777.6 619.3,780.9 619.9,784.2 620.5,787.4 621.1,790.6 621.7,793.7 622.3,796.8 622.9,799.8 623.5,802.7 624.1,805.5 624.7,808.3 625.2,811.0 625.8,813.7 626.4,816.3 627.0,818.8 627.6,821.2 628.2,823.5 628.8,825.8 629.4,828.0 630.0,830.1 630.6,832.1 631.2,834.0 631.8,835.9 632.4,837.6 633.0,839.3 633.6,840.9 634.2,842.4 634.8,843.7 635.4,845.1 635.9,846.3 636.5,847.4 637.1,848.4 637.7,849.3 638.3,850.2 638.9,850.9 639.5,851.5 640.1,852.1 640.7,852.5 641.3,852.9 641.9,853.1 642.5,853.3 643.1,853.3 643.7,853.3 644.3,853.1 644.9,852.9 645.5,852.5 646.1,852.1 646.7,851.5 647.2,850.9 647.8,850.2 648.4,849.3 649.0,848.4 649.6,847.4 650.2,846.3 650.8,845.1 651.4,843.7 652.0,842.4 652.6,840.9 653.2,839.3 653.8,837.6 654.4,835.9 655.0,834.0 655.6,832.1 656.2,830.1 656.8,828.0 657.4,825.8 658.0,823.5 658.5,821.2 659.1,818.8 659.7,816.3 660.3,813.7 660.9,811.0 661.5,808.3 662.1,805.5 662.7,802.7 663.3,799.8 663.9,796.8 664.5,793.7 665.1,790.6 665.7,787.4 666.3,784.2 666.9,780.9 667.5,777.6 668.1,774.2 668.7,770.8 669.3,767.3 669.8,763.8 670.4,760.2 671.0,756.6 671.6,753.0 672.2,749.3 672.8,745.6 673.4,741.8 674.0,738.1 674.6,734.3 675.2,730.5" fill="none" stroke="#ff0000" stroke-width="3.1" stroke-linejoin="round" stroke-dasharray="8.4 2.5" clip-path="url(#cc1)"/>
<polyline points="80.5,736.6 81.1,733.0 81.7,729.3 82.3,725.7 82.9,722.0 83.5,718.3 84.1,714.6 84.7,710.9 85.3,707.2 85.9,703.4 86.4,699.7 87.0,696.0 87.6,692.2 88.2,688.5 88.8,684.8 89.4,681.1 90.0,677.4 90.6,673.7 91.2,670.1 91.8,666.4 92.4,662.8 93.0,659.2 93.6,655.6 94.2,652.0 94.8,648.5 95.4,645.0 96.0,641.6 96.6,638.1 97.2,634.7 97.7,631.4 98.3,628.1 98.9,624.8 99.5,621.6 100.1,618.4 100.7,615.3 101.3,612.2 101.9,609.2 102.5,606.2 103.1,603.3 103.7,600.4 104.3,597.6 104.9,594.9 105.5,592.2 106.1,589.6 106.7,587.0 107.3,584.5 107.9,582.1 108.5,579.8 109.0,577.5 109.6,575.3 110.2,573.2 110.8,571.1 111.4,569.0 112.0,567.1 112.6,565.2 113.2,563.4 113.8,561.7 114.4,560.1 115.0,558.6 115.6,557.1 116.2,555.8 116.8,554.5 117.4,553.4 118.0,552.3 118.6,551.3 119.2,550.4 119.8,549.7 120.3,549.0 120.9,548.4 121.5,547.9 122.1,547.4 122.7,547.1 123.3,546.8 123.9,546.7 124.5,546.6 125.1,546.6 125.7,546.7 126.3,546.9 126.9,547.3 127.5,547.7 128.1,548.2 128.7,548.8 129.3,549.5 129.9,550.2 130.5,551.1 131.0,552.1 131.6,553.2 132.2,554.3 132.8,555.6 133.4,556.9 134.0,558.3 134.6,559.9 135.2,561.5 135.8,563.2 136.4,564.9 137.0,566.8 137.6,568.8 138.2,570.8 138.8,572.9 139.4,575.1 140.0,577.4 140.6,579.7 141.2,582.1 141.8,584.6 142.3,587.2 142.9,589.8 143.5,592.5 144.1,595.3 144.7,598.2 145.3,601.1 145.9,604.0 146.5,607.1 147.1,610.1 147.7,613.3 148.3,616.5 148.9,619.7 149.5,623.0 150.1,626.4 150.7,629.8 151.3,633.2 151.9,636.7 152.5,640.2 153.1,643.7 153.6,647.3 154.2,650.9 154.8,654.6 155.4,658.3 156.0,662.0 156.6,665.7 157.2,669.5 157.8,673.2 158.4,677.0 159.0,680.8 159.6,684.6 160.2,688.4 160.8,692.3 161.4,696.1 162.0,699.9 162.6,703.8 163.2,707.6 163.8,711.4 164.4,715.2 164.9,719.0 165.5,722.8 166.1,726.6 166.7,730.3 167.3,734.1 167.9,737.8 168.5,741.5 169.1,745.1 169.7,748.8 170.3,752.4 170.9,755.9 171.5,759.5 172.1,763.0 172.7,766.4 173.3,769.8 173.9,773.2 174.5,776.5 175.1,779.8 175.7,783.0 176.2,786.1 176.8,789.2 177.4,792.3 178.0,795.3 178.6,798.2 179.2,801.0 179.8,803.8 180.4,806.6 181.0,809.2 181.6,811.8 182.2,814.3 182.8,816.8 183.4,819.1 184.0,821.4 184.6,823.6 185.2,825.8 185.8,827.8 186.4,829.8 187.0,831.6 187.5,833.4 188.1,835.2 188.7,836.8 189.3,838.3 189.9,839.8 190.5,841.1 191.1,842.4 191.7,843.6 192.3,844.6 192.9,845.6 193.5,846.5 194.1,847.3 194.7,848.0 195.3,848.6 195.9,849.1 196.5,849.5 197.1,849.9 197.7,850.1 198.3,850.2 198.8,850.3 199.4,850.2 200.0,850.0 200.6,849.8 201.2,849.4 201.8,849.0 202.4,848.5 203.0,847.8 203.6,847.1 204.2,846.2 204.8,845.3 205.4,844.3 206.0,843.2 206.6,842.0 207.2,840.7 207.8,839.3 208.4,837.8 209.0,836.2 209.5,834.6 210.1,832.8 210.7,831.0 211.3,829.0 211.9,827.0 212.5,824.9 213.1,822.8 213.7,820.5 214.3,818.2 214.9,815.8 215.5,813.3 216.1,810.7 216.7,808.1 217.3,805.4 217.9,802.6 218.5,799.8 219.1,796.8 219.7,793.9 220.3,790.8 220.8,787.7 221.4,784.6 222.0,781.4 222.6,778.1 223.2,774.8 223.8,771.4 224.4,768.0 225.0,764.5 225.6,761.0 226.2,757.4 226.8,753.8 227.4,750.2 228.0,746.5 228.6,742.9 229.2,739.1 229.8,735.3 230.4,731.4 231.0,727.6 231.6,723.6 232.1,719.7 232.7,715.8 233.3,711.8 233.9,707.9 234.5,703.9 235.1,699.9 235.7,695.9 236.3,692.0 236.9,688.0 237.5,684.0 238.1,680.0 238.7,676.1 239.3,672.1 239.9,668.2 240.5,664.3 241.1,660.4 241.7,656.5 242.3,652.7 242.9,648.9 243.4,645.1 244.0,641.3 244.6,637.6 245.2,633.9 245.8,630.3 246.4,626.7 247.0,623.2 247.6,619.7 248.2,616.2 248.8,612.8 249.4,609.5 250.0,606.2 250.6,603.0 251.2,599.8 251.8,596.7 252.4,593.7 253.0,590.7 253.6,587.8 254.2,585.0 254.7,582.2 255.3,579.5 255.9,576.9 256.5,574.4 257.1,572.0 257.7,569.6 258.3,567.3 258.9,565.1 259.5,563.1 260.1,561.1 260.7,559.2 261.3,557.4 261.9,555.6 262.5,554.0 263.1,552.5 263.7,551.1 264.3,549.7 264.9,548.5 265.5,547.3 266.0,546.3 266.6,545.4 267.2,544.5 267.8,543.8 268.4,543.2 269.0,542.6 269.6,542.2 270.2,541.9 270.8,541.6 271.4,541.5 272.0,541.5 272.6,541.6 273.2,541.8 273.8,542.1 274.4,542.5 275.0,543.0 275.6,543.6 276.2,544.3 276.8,545.1 277.3,546.0 277.9,547.0 278.5,548.1 279.1,549.3 279.7,550.6 280.3,552.0 280.9,553.5 281.5,555.1 282.1,556.7 282.7,558.5 283.3,560.4 283.9,562.3 284.5,564.4 285.1,566.5 285.7,568.7 286.3,571.1 286.9,573.4 287.5,575.9 288.1,578.5 288.6,581.1 289.2,583.8 289.8,586.5 290.4,589.3 291.0,592.1 291.6,595.0 292.2,598.0 292.8,601.1 293.4,604.2 294.0,607.4 294.6,610.6 295.2,613.9 295.8,617.2 296.4,620.6 297.0,624.0 297.6,627.5 298.2,631.0 298.8,634.6 299.3,638.2 299.9,641.8 300.5,645.5 301.1,649.2 301.7,653.0 302.3,656.7 302.9,660.5 303.5,664.3 304.1,668.2 304.7,672.0 305.3,675.9 305.9,679.8 306.5,683.7 307.1,687.6 307.7,691.5 308.3,695.4 308.9,699.4 309.5,703.3 310.1,707.2 310.6,711.1 311.2,715.0 311.8,718.9 312.4,722.8 313.0,726.6 313.6,730.5 314.2,734.3 314.8,738.1 315.4,741.8 316.0,745.6 316.6,749.3 317.2,753.0 317.8,756.6 318.4,760.2 319.0,763.8 319.6,767.3 320.2,770.8 320.8,774.2 321.4,777.6 321.9,780.9 322.5,784.2 323.1,787.4 323.7,790.6 324.3,793.7 324.9,796.8 325.5,799.8 326.1,802.7 326.7,805.5 327.3,808.3 327.9,811.0 328.5,813.7 329.1,816.3 329.7,818.8 330.3,821.2 330.9,823.5 331.5,825.8 332.1,828.0 332.7,830.1 333.2,832.1 333.8,834.0 334.4,835.9 335.0,837.6 335.6,839.3 336.2,840.9 336.8,842.4 337.4,843.7 338.0,845.1 338.6,846.3 339.2,847.4 339.8,848.4 340.4,849.3 341.0,850.2 341.6,850.9 342.2,851.5 342.8,852.1 343.4,852.5 344.0,852.9 344.5,853.1 345.1,853.3 345.7,853.3 346.3,853.3 346.9,853.1 347.5,852.9 348.1,852.5 348.7,852.1 349.3,851.5 349.9,850.9 350.5,850.2 351.1,849.3 351.7,848.4 352.3,847.4 352.9,846.3 353.5,845.1 354.1,843.7 354.7,842.4 355.3,840.9 355.8,839.3 356.4,837.6 357.0,835.9 357.6,834.0 358.2,832.1 358.8,830.1 359.4,828.0 360.0,825.8 360.6,823.5 361.2,821.2 361.8,818.8 362.4,816.3 363.0,813.7 363.6,811.0 364.2,808.3 364.8,805.5 365.4,802.7 366.0,799.8 366.6,796.8 367.1,793.7 367.7,790.6 368.3,787.4 368.9,784.2 369.5,780.9 370.1,777.6 370.7,774.2 371.3,770.8 371.9,767.3 372.5,763.8 373.1,760.2 373.7,756.6 374.3,753.0 374.9,749.3 375.5,745.6 376.1,741.8 376.7,738.1 377.3,734.3 377.8,730.5 378.4,726.6 379.0,722.8 379.6,718.9 380.2,715.0 380.8,711.1 381.4,707.2 382.0,703.3 382.6,699.4 383.2,695.4 383.8,691.5 384.4,687.6 385.0,683.7 385.6,679.8 386.2,675.9 386.8,672.0 387.4,668.2 388.0,664.3 388.6,660.5 389.1,656.7 389.7,653.0 390.3,649.2 390.9,645.5 391.5,641.8 392.1,638.2 392.7,634.6 393.3,631.0 393.9,627.5 394.5,624.0 395.1,620.6 395.7,617.2 396.3,613.9 396.9,610.6 397.5,607.4 398.1,604.2 398.7,601.1 399.3,598.0 399.9,595.0 400.4,592.1 401.0,589.3 401.6,586.5 402.2,583.8 402.8,581.1 403.4,578.5 404.0,576.0 404.6,573.6 405.2,571.3 405.8,569.0 406.4,566.8 407.0,564.7 407.6,562.7 408.2,560.8 408.8,558.9 409.4,557.2 410.0,555.5 410.6,554.0 411.2,552.5 411.7,551.1 412.3,549.8 412.9,548.6 413.5,547.5 414.1,546.5 414.7,545.5 415.3,544.7 415.9,544.0 416.5,543.3 417.1,542.8 417.7,542.4 418.3,542.0 418.9,541.8 419.5,541.7 420.1,541.6 420.7,541.7 421.3,541.8 421.9,542.1 422.5,542.4 423.0,542.9 423.6,543.4 424.2,544.1 424.8,544.8 425.4,545.6 426.0,546.6 426.6,547.6 427.2,548.7 427.8,549.9 428.4,551.2 429.0,552.6 429.6,554.1 430.2,555.7 430.8,557.4 431.4,559.1 432.0,561.0 432.6,562.9 433.2,564.9 433.8,567.0 434.3,569.2 434.9,571.5 435.5,573.8 436.1,576.2 436.7,578.7 437.3,581.3 437.9,584.0 438.5,586.7 439.1,589.5 439.7,592.3 440.3,595.2 440.9,598.2 441.5,601.3 442.1,604.4 442.7,607.5 443.3,610.8 443.9,614.0 444.5,617.4 445.1,620.7 445.6,624.2 446.2,627.7 446.8,631.2 447.4,634.7 448.0,638.3 448.6,642.0 449.2,645.6 449.8,649.3 450.4,653.1 451.0,656.8 451.6,660.6 452.2,664.4 452.8,668.3 453.4,672.1 454.0,676.0 454.6,679.9 455.2,683.7 455.8,687.6 456.4,691.5 456.9,695.4 457.5,699.4 458.1,703.3 458.7,707.2 459.3,711.1 459.9,714.9 460.5,718.8 461.1,722.7 461.7,726.5 462.3,730.3 462.9,734.2 463.5,737.9 464.1,741.7 464.7,745.4 465.3,749.1 465.9,752.8 466.5,756.4 467.1,760.0 467.6,763.6 468.2,767.2 468.8,770.8 469.4,774.3 470.0,777.7 470.6,781.1 471.2,784.4 471.8,787.7 472.4,790.9 473.0,794.1 473.6,797.2 474.2,800.2 474.8,803.2 475.4,806.1 476.0,808.9 476.6,811.6 477.2,814.3 477.8,816.9 478.4,819.4 478.9,821.8 479.5,824.1 480.1,826.4 480.7,828.6 481.3,830.7 481.9,832.7 482.5,834.6 483.1,836.4 483.7,838.1 484.3,839.8 484.9,841.3 485.5,842.7 486.1,844.1 486.7,845.3 487.3,846.5 487.9,847.5 488.5,848.5 489.1,849.4 489.7,850.1 490.2,850.8 490.8,851.3 491.4,851.8 492.0,852.1 492.6,852.4 493.2,852.5 493.8,852.5 494.4,852.5 495.0,852.3 495.6,852.0 496.2,851.6 496.8,851.1 497.4,850.5 498.0,849.8 498.6,849.0 499.2,848.1 499.8,847.1 500.4,846.0 501.0,844.8 501.5,843.5 502.1,842.1 502.7,840.6 503.3,839.0 503.9,837.4 504.5,835.6 505.1,833.7 505.7,831.8 506.3,829.8 506.9,827.6 507.5,825.4 508.1,823.1 508.7,820.8 509.3,818.3 509.9,815.8 510.5,813.2 511.1,810.5 511.7,807.7 512.3,804.9 512.8,802.0 513.4,799.0 514.0,796.0 514.6,792.9 515.2,789.7 515.8,786.5 516.4,783.2 517.0,779.9 517.6,776.5 518.2,773.0 518.8,769.6 519.4,766.0 520.0,762.4 520.6,758.8 521.2,755.2 521.8,751.5 522.4,747.7 523.0,744.0 523.6,740.2 524.1,736.4 524.7,732.5 525.3,728.7 525.9,724.8 526.5,720.9 527.1,717.0 527.7,713.2 528.3,709.3 528.9,705.4 529.5,701.5 530.1,697.7 530.7,693.8 531.3,689.9 531.9,686.0 532.5,682.2 533.1,678.3 533.7,674.5 534.3,670.7 534.9,666.8 535.4,663.1 536.0,659.3 536.6,655.6 537.2,651.9 537.8,648.2 538.4,644.6 539.0,641.0 539.6,637.4 540.2,633.9 540.8,630.4 541.4,627.0 542.0,623.6 542.6,620.2 543.2,616.9 543.8,613.7 544.4,610.5 545.0,607.4 545.6,604.3 546.2,601.3 546.7,598.4 547.3,595.5 547.9,592.7 548.5,589.9 549.1,587.2 549.7,584.6 550.3,582.1 550.9,579.7 551.5,577.3 552.1,575.0 552.7,572.8 553.3,570.6 553.9,568.6 554.5,566.6 555.1,564.7 555.7,562.9 556.3,561.2 556.9,559.6 557.4,558.0 558.0,556.6 558.6,555.2 559.2,553.9 559.8,552.8 560.4,551.7 561.0,550.7 561.6,549.8 562.2,549.0 562.8,548.3 563.4,547.7 564.0,547.2 564.6,546.8 565.2,546.5 565.8,546.3 566.4,546.1 567.0,546.1 567.6,546.2 568.2,546.4 568.7,546.6 569.3,547.0 569.9,547.4 570.5,548.0 571.1,548.7 571.7,549.4 572.3,550.2 572.9,551.2 573.5,552.2 574.1,553.3 574.7,554.5 575.3,555.9 575.9,557.2 576.5,558.7 577.1,560.3 577.7,562.0 578.3,563.7 578.9,565.5 579.5,567.5 580.0,569.5 580.6,571.5 581.2,573.7 581.8,575.9 582.4,578.3 583.0,580.6 583.6,583.1 584.2,585.6 584.8,588.2 585.4,590.9 586.0,593.7 586.6,596.5 587.2,599.3 587.8,602.2 588.4,605.2 589.0,608.2 589.6,611.3 590.2,614.4 590.8,617.6 591.3,620.8 591.9,624.1 592.5,627.4 593.1,630.8 593.7,634.2 594.3,637.7 594.9,641.1 595.5,644.7 596.1,648.2 596.7,651.8 597.3,655.4 597.9,659.0 598.5,662.7 599.1,666.3 599.7,670.0 600.3,673.7 600.9,677.5 601.5,681.2 602.1,684.9 602.6,688.7 603.2,692.4 603.8,696.2 604.4,699.9 605.0,703.7 605.6,707.4 606.2,711.2 606.8,714.9 607.4,718.6 608.0,722.3 608.6,726.0 609.2,729.6 609.8,733.3 610.4,736.9 611.0,740.5 611.6,744.0 612.2,747.5 612.8,751.0 613.4,754.5 613.9,757.9 614.5,761.3 615.1,764.6 615.7,767.9 616.3,771.2 616.9,774.4 617.5,777.5 618.1,780.6 618.7,783.7 619.3,786.7 619.9,789.6 620.5,792.5 621.1,795.3 621.7,798.0 622.3,800.7 622.9,803.3 623.5,805.9 624.1,808.4 624.7,810.8 625.2,813.1 625.8,815.4 626.4,817.6 627.0,819.7 627.6,821.7 628.2,823.7 628.8,825.5 629.4,827.3 630.0,829.0 630.6,830.7 631.2,832.2 631.8,833.7 632.4,835.0 633.0,836.3 633.6,837.5 634.2,838.6 634.8,839.6 635.4,840.5 635.9,841.4 636.5,842.1 637.1,842.7 637.7,843.3 638.3,843.8 638.9,844.1 639.5,844.4 640.1,844.6 640.7,844.7 641.3,844.7 641.9,844.6 642.5,844.4 643.1,844.1 643.7,843.8 644.3,843.4 644.9,842.8 645.5,842.2 646.1,841.6 646.7,840.8 647.2,839.9 647.8,838.9 648.4,837.9 649.0,836.7 649.6,835.5 650.2,834.2 650.8,832.8 651.4,831.3 652.0,829.7 652.6,828.1 653.2,826.3 653.8,824.5 654.4,822.6 655.0,820.6 655.6,818.6 656.2,816.4 656.8,814.2 657.4,811.9 658.0,809.6 658.5,807.1 659.1,804.6 659.7,802.1 660.3,799.4 660.9,796.7 661.5,794.0 662.1,791.1 662.7,788.2 663.3,785.3 663.9,782.3 664.5,779.2 665.1,776.1 665.7,773.0 666.3,769.8 666.9,766.5 667.5,763.2 668.1,759.9 668.7,756.5 669.3,753.1 669.8,749.6 670.4,746.1 671.0,742.6 671.6,739.1 672.2,735.5 672.8,731.9 673.4,728.3 674.0,724.6 674.6,721.0 675.2,717.3" fill="none" stroke="#0000ff" stroke-width="3.3" stroke-linejoin="round" clip-path="url(#cc1)"/>
<path d="M80.50 853.30V847.30M80.50 541.50V547.50M376.80 853.30V847.30M376.80 541.50V547.50M675.20 853.30V847.30M675.20 541.50V547.50M80.50 853.30H86.50M675.20 853.30H669.20M80.50 775.50H86.50M675.20 775.50H669.20M80.50 697.70H86.50M675.20 697.70H669.20M80.50 620.00H86.50M675.20 620.00H669.20M80.50 541.50H86.50M675.20 541.50H669.20" stroke="#262626" stroke-width="1.2" fill="none"/>
<rect x="80.50" y="541.50" width="594.70" height="311.80" stroke="#262626" stroke-width="1.25" fill="none"/>
<g transform="matrix(0.9778 0 0 1.0067 67.02 878.10)"><text x="0" y="0" font-size="23.4" font-family="Liberation Serif, Times New Roman, serif" text-anchor="start" stroke="#000" stroke-width="0.45">-5</text></g>
<g transform="matrix(1.0200 0 0 0.9733 377.70 878.00)"><text x="0" y="0" font-size="23.4" font-family="Liberation Serif, Times New Roman, serif" text-anchor="middle" stroke="#000" stroke-width="0.45">0</text></g>
<g transform="matrix(1.0200 0 0 0.9733 676.10 878.00)"><text x="0" y="0" font-size="23.4" font-family="Liberation Serif, Times New Roman, serif" text-anchor="middle" stroke="#000" stroke-width="0.45">5</text></g>
<g transform="matrix(1.0000 0 0 1.0533 75.20 550.70)"><text x="0" y="0" font-size="23.4" font-family="Liberation Serif, Times New Roman, serif" text-anchor="end" stroke="#000" stroke-width="0.45">1</text></g>
<g transform="matrix(1.0000 0 0 1.0533 75.20 629.20)"><text x="0" y="0" font-size="23.4" font-family="Liberation Serif, Times New Roman, serif" text-anchor="end" stroke="#000" stroke-width="0.45">0.5</text></g>
<g transform="matrix(1.0000 0 0 1.0533 75.20 706.90)"><text x="0" y="0" font-size="23.4" font-family="Liberation Serif, Times New Roman, serif" text-anchor="end" stroke="#000" stroke-width="0.45">0</text></g>
<g transform="matrix(1.0000 0 0 1.0533 75.20 784.70)"><text x="0" y="0" font-size="23.4" font-family="Liberation Serif, Times New Roman, serif" text-anchor="end" stroke="#000" stroke-width="0.45">-0.5</text></g>
<g transform="matrix(1.0000 0 0 1.0533 75.20 862.50)"><text x="0" y="0" font-size="23.4" font-family="Liberation Serif, Times New Roman, serif" text-anchor="end" stroke="#000" stroke-width="0.45">-1</text></g>
<g transform="matrix(1.0278 0 0 0.9815 329.00 909.11)"><text x="0" y="0" font-size="29" font-family="Liberation Serif, Times New Roman, serif" text-anchor="start" stroke="#000" stroke-width="0.45">Time(s)</text></g>
<g transform="matrix(0.9667 0 0 1.0098 20.80 851.10)"><text x="0" y="0" font-size="29" font-family="Liberation Serif, Times New Roman, serif" text-anchor="start" transform="rotate(-90)" stroke="#000" stroke-width="0.45">Normalized Amplitude(V)</text></g>
<g transform="matrix(0.9875 0 0 1.0667 620.40 915.50)"><text x="0" y="0" font-size="23.4" font-family="Liberation Serif, Times New Roman, serif" text-anchor="start" stroke="#000" stroke-width="0.45">x 10</text></g>
<g transform="matrix(0.9846 0 0 1.0200 662.00 898.80)"><text x="0" y="0" font-size="15.5" font-family="Liberation Serif, Times New Roman, serif" text-anchor="start" stroke="#000" stroke-width="0.45">-4</text></g>
<rect x="233.6" y="551.6" width="433.1" height="68.1" fill="#fff" stroke="#333" stroke-width="1.2"/>
<line x1="244.6" y1="569.4" x2="296.7" y2="569.4" stroke="#ff0000" stroke-width="2.9" stroke-dasharray="8.4 2.5"/>
<line x1="244.6" y1="599.7" x2="298.9" y2="599.7" stroke="#0000ff" stroke-width="3.1"/>
<g transform="matrix(1.0097 0 0 1.0353 305.00 579.30)"><text x="0" y="0" font-size="25" font-family="Liberation Serif, Times New Roman, serif" text-anchor="start" stroke="#000" stroke-width="0.45">4 kHz sine wave</text></g>
<g transform="matrix(1.0120 0 0 0.9870 305.00 612.47)"><text x="0" y="0" font-size="25" font-family="Liberation Serif, Times New Roman, serif" text-anchor="start" stroke="#000" stroke-width="0.45">4 kHz single frequecny component</text></g>
<defs><clipPath id="cc2"><rect x="778.20" y="541.50" width="594.40" height="311.80"/></clipPath></defs>
<line x1="1074.50" y1="853.30" x2="1074.50" y2="541.50" stroke="#404040" stroke-width="1.3" stroke-dasharray="14.9 14.4"/>
<line x1="778.20" y1="775.50" x2="1372.60" y2="775.50" stroke="#404040" stroke-width="1.3" stroke-dasharray="14.9 14.4"/>
<line x1="778.20" y1="697.70" x2="1372.60" y2="697.70" stroke="#404040" stroke-width="1.3" stroke-dasharray="14.9 14.4"/>
<line x1="778.20" y1="620.00" x2="1372.60" y2="620.00" stroke="#404040" stroke-width="1.3" stroke-dasharray="14.9 14.4"/>
<polyline points="778.2,704.7 778.8,709.6 779.4,714.5 780.0,719.4 780.6,724.2 781.2,729.0 781.8,733.8 782.4,738.5 783.0,743.2 783.5,747.9 784.1,752.5 784.7,757.1 785.3,761.6 785.9,766.0 786.5,770.4 787.1,774.6 787.7,778.9 788.3,783.0 788.9,787.0 789.5,791.0 790.1,794.9 790.7,798.6 791.3,802.3 791.9,805.9 792.5,809.4 793.1,812.7 793.7,815.9 794.2,819.1 794.8,822.1 795.4,824.9 796.0,827.7 796.6,830.3 797.2,832.8 797.8,835.2 798.4,837.4 799.0,839.5 799.6,841.4 800.2,843.2 800.8,844.9 801.4,846.4 802.0,847.8 802.6,849.0 803.2,850.1 803.8,851.0 804.4,851.7 804.9,852.4 805.5,852.8 806.1,853.1 806.7,853.3 807.3,853.3 807.9,853.1 808.5,852.8 809.1,852.4 809.7,851.7 810.3,851.0 810.9,850.1 811.5,849.0 812.1,847.8 812.7,846.4 813.3,844.9 813.9,843.2 814.5,841.4 815.1,839.5 815.6,837.4 816.2,835.2 816.8,832.8 817.4,830.3 818.0,827.7 818.6,824.9 819.2,822.1 819.8,819.1 820.4,815.9 821.0,812.7 821.6,809.4 822.2,805.9 822.8,802.3 823.4,798.6 824.0,794.9 824.6,791.0 825.2,787.0 825.8,783.0 826.3,778.9 826.9,774.6 827.5,770.4 828.1,766.0 828.7,761.6 829.3,757.1 829.9,752.5 830.5,747.9 831.1,743.2 831.7,738.5 832.3,733.8 832.9,729.0 833.5,724.2 834.1,719.4 834.7,714.5 835.3,709.6 835.9,704.7 836.5,699.8 837.0,695.0 837.6,690.1 838.2,685.2 838.8,680.3 839.4,675.4 840.0,670.6 840.6,665.8 841.2,661.0 841.8,656.3 842.4,651.6 843.0,646.9 843.6,642.3 844.2,637.7 844.8,633.2 845.4,628.8 846.0,624.4 846.6,620.2 847.2,615.9 847.7,611.8 848.3,607.8 848.9,603.8 849.5,599.9 850.1,596.2 850.7,592.5 851.3,588.9 851.9,585.4 852.5,582.1 853.1,578.9 853.7,575.7 854.3,572.7 854.9,569.9 855.5,567.1 856.1,564.5 856.7,562.0 857.3,559.6 857.8,557.4 858.4,555.3 859.0,553.4 859.6,551.6 860.2,549.9 860.8,548.4 861.4,547.0 862.0,545.8 862.6,544.7 863.2,543.8 863.8,543.1 864.4,542.4 865.0,542.0 865.6,541.7 866.2,541.5 866.8,541.5 867.4,541.7 868.0,542.0 868.5,542.4 869.1,543.1 869.7,543.8 870.3,544.7 870.9,545.8 871.5,547.0 872.1,548.4 872.7,549.9 873.3,551.6 873.9,553.4 874.5,555.3 875.1,557.4 875.7,559.6 876.3,562.0 876.9,564.5 877.5,567.1 878.1,569.9 878.7,572.7 879.2,575.7 879.8,578.9 880.4,582.1 881.0,585.4 881.6,588.9 882.2,592.5 882.8,596.2 883.4,599.9 884.0,603.8 884.6,607.8 885.2,611.8 885.8,615.9 886.4,620.2 887.0,624.4 887.6,628.8 888.2,633.2 888.8,637.7 889.4,642.3 889.9,646.9 890.5,651.6 891.1,656.3 891.7,661.0 892.3,665.8 892.9,670.6 893.5,675.4 894.1,680.3 894.7,685.2 895.3,690.1 895.9,695.0 896.5,699.8 897.1,704.7 897.7,709.6 898.3,714.5 898.9,719.4 899.5,724.2 900.1,729.0 900.6,733.8 901.2,738.5 901.8,743.2 902.4,747.9 903.0,752.5 903.6,757.1 904.2,761.6 904.8,766.0 905.4,770.4 906.0,774.6 906.6,778.9 907.2,783.0 907.8,787.0 908.4,791.0 909.0,794.9 909.6,798.6 910.2,802.3 910.8,805.9 911.3,809.4 911.9,812.7 912.5,815.9 913.1,819.1 913.7,822.1 914.3,824.9 914.9,827.7 915.5,830.3 916.1,832.8 916.7,835.2 917.3,837.4 917.9,839.5 918.5,841.4 919.1,843.2 919.7,844.9 920.3,846.4 920.9,847.8 921.5,849.0 922.0,850.1 922.6,851.0 923.2,851.7 923.8,852.4 924.4,852.8 925.0,853.1 925.6,853.3 926.2,853.3 926.8,853.1 927.4,852.8 928.0,852.4 928.6,851.7 929.2,851.0 929.8,850.1 930.4,849.0 931.0,847.8 931.6,846.4 932.1,844.9 932.7,843.2 933.3,841.4 933.9,839.5 934.5,837.4 935.1,835.2 935.7,832.8 936.3,830.3 936.9,827.7 937.5,824.9 938.1,822.1 938.7,819.1 939.3,815.9 939.9,812.7 940.5,809.4 941.1,805.9 941.7,802.3 942.3,798.6 942.8,794.9 943.4,791.0 944.0,787.0 944.6,783.0 945.2,778.9 945.8,774.6 946.4,770.4 947.0,766.0 947.6,761.6 948.2,757.1 948.8,752.5 949.4,747.9 950.0,743.2 950.6,738.5 951.2,733.8 951.8,729.0 952.4,724.2 953.0,719.4 953.5,714.5 954.1,709.6 954.7,704.7 955.3,699.8 955.9,695.0 956.5,690.1 957.1,685.2 957.7,680.3 958.3,675.4 958.9,670.6 959.5,665.8 960.1,661.0 960.7,656.3 961.3,651.6 961.9,646.9 962.5,642.3 963.1,637.7 963.7,633.2 964.2,628.8 964.8,624.4 965.4,620.2 966.0,615.9 966.6,611.8 967.2,607.8 967.8,603.8 968.4,599.9 969.0,596.2 969.6,592.5 970.2,588.9 970.8,585.4 971.4,582.1 972.0,578.9 972.6,575.7 973.2,572.7 973.8,569.9 974.4,567.1 974.9,564.5 975.5,562.0 976.1,559.6 976.7,557.4 977.3,555.3 977.9,553.4 978.5,551.6 979.1,549.9 979.7,548.4 980.3,547.0 980.9,545.8 981.5,544.7 982.1,543.8 982.7,543.1 983.3,542.4 983.9,542.0 984.5,541.7 985.1,541.5 985.6,541.5 986.2,541.7 986.8,542.0 987.4,542.4 988.0,543.1 988.6,543.8 989.2,544.7 989.8,545.8 990.4,547.0 991.0,548.4 991.6,549.9 992.2,551.6 992.8,553.4 993.4,555.3 994.0,557.4 994.6,559.6 995.2,562.0 995.8,564.5 996.3,567.1 996.9,569.9 997.5,572.7 998.1,575.7 998.7,578.9 999.3,582.1 999.9,585.4 1000.5,588.9 1001.1,592.5 1001.7,596.2 1002.3,599.9 1002.9,603.8 1003.5,607.8 1004.1,611.8 1004.7,615.9 1005.3,620.2 1005.9,624.4 1006.4,628.8 1007.0,633.2 1007.6,637.7 1008.2,642.3 1008.8,646.9 1009.4,651.6 1010.0,656.3 1010.6,661.0 1011.2,665.8 1011.8,670.6 1012.4,675.4 1013.0,680.3 1013.6,685.2 1014.2,690.1 1014.8,695.0 1015.4,699.8 1016.0,704.7 1016.6,709.6 1017.1,714.5 1017.7,719.4 1018.3,724.2 1018.9,729.0 1019.5,733.8 1020.1,738.5 1020.7,743.2 1021.3,747.9 1021.9,752.5 1022.5,757.1 1023.1,761.6 1023.7,766.0 1024.3,770.4 1024.9,774.6 1025.5,778.9 1026.1,783.0 1026.7,787.0 1027.3,791.0 1027.8,794.9 1028.4,798.6 1029.0,802.3 1029.6,805.9 1030.2,809.4 1030.8,812.7 1031.4,815.9 1032.0,819.1 1032.6,822.1 1033.2,824.9 1033.8,827.7 1034.4,830.3 1035.0,832.8 1035.6,835.2 1036.2,837.4 1036.8,839.5 1037.4,841.4 1038.0,843.2 1038.5,844.9 1039.1,846.4 1039.7,847.8 1040.3,849.0 1040.9,850.1 1041.5,851.0 1042.1,851.7 1042.7,852.4 1043.3,852.8 1043.9,853.1 1044.5,853.3 1045.1,853.3 1045.7,853.1 1046.3,852.8 1046.9,852.4 1047.5,851.7 1048.1,851.0 1048.7,850.1 1049.2,849.0 1049.8,847.8 1050.4,846.4 1051.0,844.9 1051.6,843.2 1052.2,841.4 1052.8,839.5 1053.4,837.4 1054.0,835.2 1054.6,832.8 1055.2,830.3 1055.8,827.7 1056.4,824.9 1057.0,822.1 1057.6,819.1 1058.2,815.9 1058.8,812.7 1059.4,809.4 1059.9,805.9 1060.5,802.3 1061.1,798.6 1061.7,794.9 1062.3,791.0 1062.9,787.0 1063.5,783.0 1064.1,778.9 1064.7,774.6 1065.3,770.4 1065.9,766.0 1066.5,761.6 1067.1,757.1 1067.7,752.5 1068.3,747.9 1068.9,743.2 1069.5,738.5 1070.1,733.8 1070.6,729.0 1071.2,724.2 1071.8,719.4 1072.4,714.5 1073.0,709.6 1073.6,704.7 1074.2,699.8 1074.8,695.0 1075.4,690.1 1076.0,685.2 1076.6,680.3 1077.2,675.4 1077.8,670.6 1078.4,665.8 1079.0,661.0 1079.6,656.3 1080.2,651.6 1080.7,646.9 1081.3,642.3 1081.9,637.7 1082.5,633.2 1083.1,628.8 1083.7,624.4 1084.3,620.2 1084.9,615.9 1085.5,611.8 1086.1,607.8 1086.7,603.8 1087.3,599.9 1087.9,596.2 1088.5,592.5 1089.1,588.9 1089.7,585.4 1090.3,582.1 1090.9,578.9 1091.4,575.7 1092.0,572.7 1092.6,569.9 1093.2,567.1 1093.8,564.5 1094.4,562.0 1095.0,559.6 1095.6,557.4 1096.2,555.3 1096.8,553.4 1097.4,551.6 1098.0,549.9 1098.6,548.4 1099.2,547.0 1099.8,545.8 1100.4,544.7 1101.0,543.8 1101.6,543.1 1102.1,542.4 1102.7,542.0 1103.3,541.7 1103.9,541.5 1104.5,541.5 1105.1,541.7 1105.7,542.0 1106.3,542.4 1106.9,543.1 1107.5,543.8 1108.1,544.7 1108.7,545.8 1109.3,547.0 1109.9,548.4 1110.5,549.9 1111.1,551.6 1111.7,553.4 1112.3,555.3 1112.8,557.4 1113.4,559.6 1114.0,562.0 1114.6,564.5 1115.2,567.1 1115.8,569.9 1116.4,572.7 1117.0,575.7 1117.6,578.9 1118.2,582.1 1118.8,585.4 1119.4,588.9 1120.0,592.5 1120.6,596.2 1121.2,599.9 1121.8,603.8 1122.4,607.8 1123.0,611.8 1123.5,615.9 1124.1,620.2 1124.7,624.4 1125.3,628.8 1125.9,633.2 1126.5,637.7 1127.1,642.3 1127.7,646.9 1128.3,651.6 1128.9,656.3 1129.5,661.0 1130.1,665.8 1130.7,670.6 1131.3,675.4 1131.9,680.3 1132.5,685.2 1133.1,690.1 1133.7,695.0 1134.2,699.8 1134.8,704.7 1135.4,709.6 1136.0,714.5 1136.6,719.4 1137.2,724.2 1137.8,729.0 1138.4,733.8 1139.0,738.5 1139.6,743.2 1140.2,747.9 1140.8,752.5 1141.4,757.1 1142.0,761.6 1142.6,766.0 1143.2,770.4 1143.8,774.6 1144.4,778.9 1144.9,783.0 1145.5,787.0 1146.1,791.0 1146.7,794.9 1147.3,798.6 1147.9,802.3 1148.5,805.9 1149.1,809.4 1149.7,812.7 1150.3,815.9 1150.9,819.1 1151.5,822.1 1152.1,824.9 1152.7,827.7 1153.3,830.3 1153.9,832.8 1154.5,835.2 1155.0,837.4 1155.6,839.5 1156.2,841.4 1156.8,843.2 1157.4,844.9 1158.0,846.4 1158.6,847.8 1159.2,849.0 1159.8,850.1 1160.4,851.0 1161.0,851.7 1161.6,852.4 1162.2,852.8 1162.8,853.1 1163.4,853.3 1164.0,853.3 1164.6,853.1 1165.2,852.8 1165.7,852.4 1166.3,851.7 1166.9,851.0 1167.5,850.1 1168.1,849.0 1168.7,847.8 1169.3,846.4 1169.9,844.9 1170.5,843.2 1171.1,841.4 1171.7,839.5 1172.3,837.4 1172.9,835.2 1173.5,832.8 1174.1,830.3 1174.7,827.7 1175.3,824.9 1175.9,822.1 1176.4,819.1 1177.0,815.9 1177.6,812.7 1178.2,809.4 1178.8,805.9 1179.4,802.3 1180.0,798.6 1180.6,794.9 1181.2,791.0 1181.8,787.0 1182.4,783.0 1183.0,778.9 1183.6,774.6 1184.2,770.4 1184.8,766.0 1185.4,761.6 1186.0,757.1 1186.6,752.5 1187.1,747.9 1187.7,743.2 1188.3,738.5 1188.9,733.8 1189.5,729.0 1190.1,724.2 1190.7,719.4 1191.3,714.5 1191.9,709.6 1192.5,704.7 1193.1,699.8 1193.7,695.0 1194.3,690.1 1194.9,685.2 1195.5,680.3 1196.1,675.4 1196.7,670.6 1197.3,665.8 1197.8,661.0 1198.4,656.3 1199.0,651.6 1199.6,646.9 1200.2,642.3 1200.8,637.7 1201.4,633.2 1202.0,628.8 1202.6,624.4 1203.2,620.2 1203.8,615.9 1204.4,611.8 1205.0,607.8 1205.6,603.8 1206.2,599.9 1206.8,596.2 1207.4,592.5 1208.0,588.9 1208.5,585.4 1209.1,582.1 1209.7,578.9 1210.3,575.7 1210.9,572.7 1211.5,569.9 1212.1,567.1 1212.7,564.5 1213.3,562.0 1213.9,559.6 1214.5,557.4 1215.1,555.3 1215.7,553.4 1216.3,551.6 1216.9,549.9 1217.5,548.4 1218.1,547.0 1218.7,545.8 1219.2,544.7 1219.8,543.8 1220.4,543.1 1221.0,542.4 1221.6,542.0 1222.2,541.7 1222.8,541.5 1223.4,541.5 1224.0,541.7 1224.6,542.0 1225.2,542.4 1225.8,543.1 1226.4,543.8 1227.0,544.7 1227.6,545.8 1228.2,547.0 1228.8,548.4 1229.3,549.9 1229.9,551.6 1230.5,553.4 1231.1,555.3 1231.7,557.4 1232.3,559.6 1232.9,562.0 1233.5,564.5 1234.1,567.1 1234.7,569.9 1235.3,572.7 1235.9,575.7 1236.5,578.9 1237.1,582.1 1237.7,585.4 1238.3,588.9 1238.9,592.5 1239.5,596.2 1240.0,599.9 1240.6,603.8 1241.2,607.8 1241.8,611.8 1242.4,615.9 1243.0,620.2 1243.6,624.4 1244.2,628.8 1244.8,633.2 1245.4,637.7 1246.0,642.3 1246.6,646.9 1247.2,651.6 1247.8,656.3 1248.4,661.0 1249.0,665.8 1249.6,670.6 1250.2,675.4 1250.7,680.3 1251.3,685.2 1251.9,690.1 1252.5,695.0 1253.1,699.8 1253.7,704.7 1254.3,709.6 1254.9,714.5 1255.5,719.4 1256.1,724.2 1256.7,729.0 1257.3,733.8 1257.9,738.5 1258.5,743.2 1259.1,747.9 1259.7,752.5 1260.3,757.1 1260.9,761.6 1261.4,766.0 1262.0,770.4 1262.6,774.6 1263.2,778.9 1263.8,783.0 1264.4,787.0 1265.0,791.0 1265.6,794.9 1266.2,798.6 1266.8,802.3 1267.4,805.9 1268.0,809.4 1268.6,812.7 1269.2,815.9 1269.8,819.1 1270.4,822.1 1271.0,824.9 1271.6,827.7 1272.1,830.3 1272.7,832.8 1273.3,835.2 1273.9,837.4 1274.5,839.5 1275.1,841.4 1275.7,843.2 1276.3,844.9 1276.9,846.4 1277.5,847.8 1278.1,849.0 1278.7,850.1 1279.3,851.0 1279.9,851.7 1280.5,852.4 1281.1,852.8 1281.7,853.1 1282.3,853.3 1282.8,853.3 1283.4,853.1 1284.0,852.8 1284.6,852.4 1285.2,851.7 1285.8,851.0 1286.4,850.1 1287.0,849.0 1287.6,847.8 1288.2,846.4 1288.8,844.9 1289.4,843.2 1290.0,841.4 1290.6,839.5 1291.2,837.4 1291.8,835.2 1292.4,832.8 1293.0,830.3 1293.5,827.7 1294.1,824.9 1294.7,822.1 1295.3,819.1 1295.9,815.9 1296.5,812.7 1297.1,809.4 1297.7,805.9 1298.3,802.3 1298.9,798.6 1299.5,794.9 1300.1,791.0 1300.7,787.0 1301.3,783.0 1301.9,778.9 1302.5,774.6 1303.1,770.4 1303.6,766.0 1304.2,761.6 1304.8,757.1 1305.4,752.5 1306.0,747.9 1306.6,743.2 1307.2,738.5 1307.8,733.8 1308.4,729.0 1309.0,724.2 1309.6,719.4 1310.2,714.5 1310.8,709.6 1311.4,704.7 1312.0,699.8 1312.6,695.0 1313.2,690.1 1313.8,685.2 1314.3,680.3 1314.9,675.4 1315.5,670.6 1316.1,665.8 1316.7,661.0 1317.3,656.3 1317.9,651.6 1318.5,646.9 1319.1,642.3 1319.7,637.7 1320.3,633.2 1320.9,628.8 1321.5,624.4 1322.1,620.2 1322.7,615.9 1323.3,611.8 1323.9,607.8 1324.5,603.8 1325.0,599.9 1325.6,596.2 1326.2,592.5 1326.8,588.9 1327.4,585.4 1328.0,582.1 1328.6,578.9 1329.2,575.7 1329.8,572.7 1330.4,569.9 1331.0,567.1 1331.6,564.5 1332.2,562.0 1332.8,559.6 1333.4,557.4 1334.0,555.3 1334.6,553.4 1335.2,551.6 1335.7,549.9 1336.3,548.4 1336.9,547.0 1337.5,545.8 1338.1,544.7 1338.7,543.8 1339.3,543.1 1339.9,542.4 1340.5,542.0 1341.1,541.7 1341.7,541.5 1342.3,541.5 1342.9,541.7 1343.5,542.0 1344.1,542.4 1344.7,543.1 1345.3,543.8 1345.9,544.7 1346.4,545.8 1347.0,547.0 1347.6,548.4 1348.2,549.9 1348.8,551.6 1349.4,553.4 1350.0,555.3 1350.6,557.4 1351.2,559.6 1351.8,562.0 1352.4,564.5 1353.0,567.1 1353.6,569.9 1354.2,572.7 1354.8,575.7 1355.4,578.9 1356.0,582.1 1356.6,585.4 1357.1,588.9 1357.7,592.5 1358.3,596.2 1358.9,599.9 1359.5,603.8 1360.1,607.8 1360.7,611.8 1361.3,615.9 1361.9,620.2 1362.5,624.4 1363.1,628.8 1363.7,633.2 1364.3,637.7 1364.9,642.3 1365.5,646.9 1366.1,651.6 1366.7,656.3 1367.3,661.0 1367.8,665.8 1368.4,670.6 1369.0,675.4 1369.6,680.3 1370.2,685.2 1370.8,690.1 1371.4,695.0 1372.0,699.8 1372.6,704.7" fill="none" stroke="#ff0000" stroke-width="3.1" stroke-linejoin="round" stroke-dasharray="8.4 2.5" clip-path="url(#cc2)"/>
<polyline points="778.2,704.2 778.8,708.5 779.4,712.9 780.0,717.2 780.6,721.5 781.2,725.8 781.8,730.1 782.4,734.3 783.0,738.5 783.5,742.7 784.1,746.8 784.7,750.9 785.3,754.9 785.9,758.9 786.5,762.8 787.1,766.7 787.7,770.5 788.3,774.2 788.9,777.9 789.5,781.5 790.1,785.0 790.7,788.4 791.3,791.8 791.9,795.1 792.5,798.2 793.1,801.3 793.7,804.3 794.2,807.2 794.8,810.0 795.4,812.7 796.0,815.2 796.6,817.8 797.2,820.2 797.8,822.6 798.4,824.8 799.0,826.8 799.6,828.8 800.2,830.6 800.8,832.3 801.4,833.8 802.0,835.2 802.6,836.5 803.2,837.6 803.8,838.6 804.4,839.5 804.9,840.2 805.5,840.7 806.1,841.2 806.7,841.4 807.3,841.6 807.9,841.6 808.5,841.5 809.1,841.2 809.7,840.9 810.3,840.3 810.9,839.7 811.5,838.8 812.1,837.9 812.7,836.8 813.3,835.6 813.9,834.2 814.5,832.7 815.1,831.0 815.6,829.2 816.2,827.3 816.8,825.3 817.4,823.1 818.0,820.8 818.6,818.4 819.2,815.8 819.8,813.1 820.4,810.4 821.0,807.4 821.6,804.4 822.2,801.3 822.8,798.1 823.4,794.7 824.0,791.3 824.6,787.8 825.2,784.1 825.8,780.4 826.3,776.6 826.9,772.7 827.5,768.8 828.1,764.7 828.7,760.6 829.3,756.5 829.9,752.2 830.5,747.9 831.1,743.6 831.7,739.2 832.3,734.7 832.9,730.2 833.5,725.7 834.1,721.2 834.7,716.6 835.3,712.0 835.9,707.3 836.5,702.7 837.0,698.1 837.6,693.4 838.2,688.7 838.8,684.1 839.4,679.4 840.0,674.8 840.6,670.2 841.2,665.6 841.8,661.0 842.4,656.5 843.0,652.0 843.6,647.5 844.2,643.1 844.8,638.8 845.4,634.5 846.0,630.2 846.6,626.0 847.2,621.9 847.7,617.9 848.3,613.9 848.9,610.0 849.5,606.2 850.1,602.5 850.7,598.9 851.3,595.4 851.9,592.0 852.5,588.6 853.1,585.4 853.7,582.3 854.3,579.3 854.9,576.4 855.5,573.7 856.1,571.0 856.7,568.5 857.3,566.1 857.8,563.8 858.4,561.7 859.0,559.7 859.6,557.9 860.2,556.1 860.8,554.5 861.4,553.1 862.0,551.8 862.6,550.7 863.2,549.6 863.8,548.8 864.4,548.1 865.0,547.5 865.6,547.1 866.2,546.8 866.8,546.7 867.4,546.7 868.0,547.0 868.5,547.3 869.1,547.8 869.7,548.5 870.3,549.3 870.9,550.3 871.5,551.4 872.1,552.7 872.7,554.1 873.3,555.6 873.9,557.3 874.5,559.1 875.1,561.1 875.7,563.2 876.3,565.5 876.9,567.8 877.5,570.3 878.1,573.0 878.7,575.7 879.2,578.6 879.8,581.6 880.4,584.7 881.0,588.0 881.6,591.3 882.2,594.8 882.8,598.3 883.4,602.0 884.0,605.7 884.6,609.6 885.2,613.5 885.8,617.6 886.4,621.7 887.0,625.8 887.6,630.1 888.2,634.4 888.8,638.8 889.4,643.3 889.9,647.8 890.5,652.3 891.1,656.9 891.7,661.6 892.3,666.3 892.9,671.0 893.5,675.8 894.1,680.5 894.7,685.3 895.3,690.1 895.9,694.9 896.5,699.8 897.1,704.6 897.7,709.4 898.3,714.1 898.9,718.9 899.5,723.7 900.1,728.4 900.6,733.1 901.2,737.7 901.8,742.3 902.4,746.9 903.0,751.4 903.6,755.9 904.2,760.4 904.8,764.7 905.4,769.0 906.0,773.2 906.6,777.4 907.2,781.5 907.8,785.5 908.4,789.4 909.0,793.2 909.6,797.0 910.2,800.6 910.8,804.1 911.3,807.6 911.9,810.9 912.5,814.1 913.1,817.2 913.7,820.2 914.3,823.1 914.9,825.8 915.5,828.4 916.1,830.9 916.7,833.3 917.3,835.5 917.9,837.6 918.5,839.5 919.1,841.3 919.7,843.0 920.3,844.5 920.9,845.9 921.5,847.2 922.0,848.3 922.6,849.2 923.2,850.0 923.8,850.6 924.4,851.1 925.0,851.5 925.6,851.7 926.2,851.7 926.8,851.6 927.4,851.3 928.0,850.8 928.6,850.2 929.2,849.5 929.8,848.6 930.4,847.6 931.0,846.4 931.6,845.0 932.1,843.6 932.7,841.9 933.3,840.2 933.9,838.2 934.5,836.2 935.1,834.0 935.7,831.7 936.3,829.2 936.9,826.6 937.5,823.9 938.1,821.1 938.7,818.1 939.3,815.0 939.9,811.8 940.5,808.5 941.1,805.1 941.7,801.5 942.3,797.9 942.8,794.2 943.4,790.3 944.0,786.4 944.6,782.4 945.2,778.3 945.8,774.1 946.4,769.9 947.0,765.5 947.6,761.1 948.2,756.7 948.8,752.2 949.4,747.6 950.0,743.0 950.6,738.3 951.2,733.6 951.8,728.8 952.4,724.1 953.0,719.2 953.5,714.4 954.1,709.6 954.7,704.7 955.3,699.8 955.9,695.0 956.5,690.1 957.1,685.2 957.7,680.4 958.3,675.5 958.9,670.7 959.5,665.9 960.1,661.2 960.7,656.4 961.3,651.8 961.9,647.1 962.5,642.5 963.1,638.0 963.7,633.5 964.2,629.1 964.8,624.7 965.4,620.4 966.0,616.2 966.6,612.1 967.2,608.0 967.8,604.1 968.4,600.2 969.0,596.4 969.6,592.8 970.2,589.2 970.8,585.7 971.4,582.4 972.0,579.1 972.6,576.0 973.2,573.0 973.8,570.1 974.4,567.4 974.9,564.7 975.5,562.2 976.1,559.9 976.7,557.6 977.3,555.5 977.9,553.6 978.5,551.8 979.1,550.1 979.7,548.6 980.3,547.2 980.9,545.9 981.5,544.9 982.1,543.9 982.7,543.1 983.3,542.5 983.9,542.0 984.5,541.7 985.1,541.6 985.6,541.5 986.2,541.7 986.8,542.0 987.4,542.4 988.0,543.1 988.6,543.8 989.2,544.7 989.8,545.8 990.4,547.0 991.0,548.4 991.6,549.9 992.2,551.6 992.8,553.4 993.4,555.3 994.0,557.4 994.6,559.6 995.2,562.0 995.8,564.5 996.3,567.1 996.9,569.9 997.5,572.7 998.1,575.7 998.7,578.9 999.3,582.1 999.9,585.4 1000.5,588.9 1001.1,592.5 1001.7,596.2 1002.3,599.9 1002.9,603.8 1003.5,607.8 1004.1,611.8 1004.7,615.9 1005.3,620.2 1005.9,624.4 1006.4,628.8 1007.0,633.2 1007.6,637.7 1008.2,642.3 1008.8,646.9 1009.4,651.6 1010.0,656.3 1010.6,661.0 1011.2,665.8 1011.8,670.6 1012.4,675.4 1013.0,680.3 1013.6,685.2 1014.2,690.1 1014.8,695.0 1015.4,699.8 1016.0,704.7 1016.6,709.6 1017.1,714.5 1017.7,719.4 1018.3,724.2 1018.9,729.0 1019.5,733.8 1020.1,738.5 1020.7,743.2 1021.3,747.9 1021.9,752.5 1022.5,757.1 1023.1,761.6 1023.7,766.0 1024.3,770.4 1024.9,774.6 1025.5,778.9 1026.1,783.0 1026.7,787.0 1027.3,791.0 1027.8,794.9 1028.4,798.6 1029.0,802.3 1029.6,805.9 1030.2,809.4 1030.8,812.7 1031.4,815.9 1032.0,819.1 1032.6,822.1 1033.2,824.9 1033.8,827.7 1034.4,830.3 1035.0,832.8 1035.6,835.2 1036.2,837.4 1036.8,839.5 1037.4,841.4 1038.0,843.2 1038.5,844.9 1039.1,846.4 1039.7,847.8 1040.3,849.0 1040.9,850.1 1041.5,851.0 1042.1,851.7 1042.7,852.4 1043.3,852.8 1043.9,853.1 1044.5,853.3 1045.1,853.3 1045.7,853.1 1046.3,852.8 1046.9,852.4 1047.5,851.7 1048.1,851.0 1048.7,850.1 1049.2,849.0 1049.8,847.8 1050.4,846.4 1051.0,844.9 1051.6,843.2 1052.2,841.4 1052.8,839.5 1053.4,837.4 1054.0,835.2 1054.6,832.8 1055.2,830.3 1055.8,827.7 1056.4,824.9 1057.0,822.1 1057.6,819.1 1058.2,815.9 1058.8,812.7 1059.4,809.4 1059.9,805.9 1060.5,802.3 1061.1,798.6 1061.7,794.9 1062.3,791.0 1062.9,787.0 1063.5,783.0 1064.1,778.9 1064.7,774.6 1065.3,770.4 1065.9,766.0 1066.5,761.6 1067.1,757.1 1067.7,752.5 1068.3,747.9 1068.9,743.2 1069.5,738.5 1070.1,733.8 1070.6,729.0 1071.2,724.2 1071.8,719.4 1072.4,714.5 1073.0,709.6 1073.6,704.7 1074.2,699.8 1074.8,695.0 1075.4,690.1 1076.0,685.2 1076.6,680.3 1077.2,675.4 1077.8,670.6 1078.4,665.8 1079.0,661.0 1079.6,656.3 1080.2,651.6 1080.7,646.9 1081.3,642.3 1081.9,637.7 1082.5,633.2 1083.1,628.8 1083.7,624.4 1084.3,620.2 1084.9,615.9 1085.5,611.8 1086.1,607.8 1086.7,603.8 1087.3,599.9 1087.9,596.2 1088.5,592.5 1089.1,588.9 1089.7,585.4 1090.3,582.1 1090.9,578.9 1091.4,575.7 1092.0,572.7 1092.6,569.9 1093.2,567.1 1093.8,564.5 1094.4,562.0 1095.0,559.6 1095.6,557.4 1096.2,555.3 1096.8,553.4 1097.4,551.6 1098.0,549.9 1098.6,548.4 1099.2,547.0 1099.8,545.8 1100.4,544.7 1101.0,543.8 1101.6,543.1 1102.1,542.4 1102.7,542.0 1103.3,541.7 1103.9,541.5 1104.5,541.5 1105.1,541.7 1105.7,542.0 1106.3,542.4 1106.9,543.1 1107.5,543.8 1108.1,544.7 1108.7,545.8 1109.3,547.0 1109.9,548.4 1110.5,549.9 1111.1,551.6 1111.7,553.4 1112.3,555.3 1112.8,557.4 1113.4,559.6 1114.0,562.0 1114.6,564.5 1115.2,567.1 1115.8,569.9 1116.4,572.7 1117.0,575.7 1117.6,578.9 1118.2,582.1 1118.8,585.4 1119.4,588.9 1120.0,592.5 1120.6,596.2 1121.2,599.9 1121.8,603.8 1122.4,607.8 1123.0,611.8 1123.5,615.9 1124.1,620.2 1124.7,624.4 1125.3,628.8 1125.9,633.2 1126.5,637.7 1127.1,642.3 1127.7,646.9 1128.3,651.6 1128.9,656.3 1129.5,661.0 1130.1,665.8 1130.7,670.6 1131.3,675.4 1131.9,680.3 1132.5,685.2 1133.1,690.1 1133.7,695.0 1134.2,699.8 1134.8,704.7 1135.4,709.6 1136.0,714.5 1136.6,719.4 1137.2,724.2 1137.8,729.0 1138.4,733.8 1139.0,738.5 1139.6,743.2 1140.2,747.9 1140.8,752.5 1141.4,757.1 1142.0,761.6 1142.6,766.0 1143.2,770.4 1143.8,774.6 1144.4,778.9 1144.9,783.0 1145.5,787.0 1146.1,791.0 1146.7,794.9 1147.3,798.6 1147.9,802.3 1148.5,805.9 1149.1,809.4 1149.7,812.7 1150.3,815.9 1150.9,819.1 1151.5,822.1 1152.1,824.9 1152.7,827.7 1153.3,830.3 1153.9,832.8 1154.5,835.2 1155.0,837.4 1155.6,839.5 1156.2,841.4 1156.8,843.2 1157.4,844.9 1158.0,846.4 1158.6,847.8 1159.2,849.0 1159.8,850.1 1160.4,851.0 1161.0,851.7 1161.6,852.4 1162.2,852.8 1162.8,853.1 1163.4,853.3 1164.0,853.3 1164.6,853.1 1165.2,852.8 1165.7,852.3 1166.3,851.6 1166.9,850.8 1167.5,849.8 1168.1,848.7 1168.7,847.4 1169.3,846.0 1169.9,844.5 1170.5,842.8 1171.1,840.9 1171.7,838.9 1172.3,836.8 1172.9,834.5 1173.5,832.1 1174.1,829.6 1174.7,827.0 1175.3,824.2 1175.9,821.3 1176.4,818.3 1177.0,815.1 1177.6,811.9 1178.2,808.5 1178.8,805.0 1179.4,801.5 1180.0,797.8 1180.6,794.0 1181.2,790.1 1181.8,786.2 1182.4,782.1 1183.0,778.0 1183.6,773.8 1184.2,769.6 1184.8,765.2 1185.4,760.8 1186.0,756.4 1186.6,751.8 1187.1,747.3 1187.7,742.7 1188.3,738.0 1188.9,733.3 1189.5,728.6 1190.1,723.8 1190.7,719.0 1191.3,714.3 1191.9,709.4 1192.5,704.6 1193.1,699.8 1193.7,695.0 1194.3,690.2 1194.9,685.4 1195.5,680.6 1196.1,675.8 1196.7,671.1 1197.3,666.4 1197.8,661.7 1198.4,657.0 1199.0,652.4 1199.6,647.9 1200.2,643.4 1200.8,638.9 1201.4,634.6 1202.0,630.2 1202.6,626.0 1203.2,621.8 1203.8,617.7 1204.4,613.7 1205.0,609.8 1205.6,605.9 1206.2,602.2 1206.8,598.5 1207.4,595.0 1208.0,591.5 1208.5,588.2 1209.1,584.9 1209.7,581.8 1210.3,578.8 1210.9,575.9 1211.5,573.2 1212.1,570.5 1212.7,568.0 1213.3,565.6 1213.9,563.4 1214.5,561.3 1215.1,559.3 1215.7,557.5 1216.3,555.8 1216.9,554.2 1217.5,552.8 1218.1,551.5 1218.7,550.4 1219.2,549.4 1219.8,548.5 1220.4,547.8 1221.0,547.3 1221.6,546.9 1222.2,546.7 1222.8,546.6 1223.4,546.6 1224.0,546.8 1224.6,547.2 1225.2,547.7 1225.8,548.3 1226.4,549.1 1227.0,550.1 1227.6,551.2 1228.2,552.4 1228.8,553.8 1229.3,555.3 1229.9,557.0 1230.5,558.8 1231.1,560.7 1231.7,562.8 1232.3,565.0 1232.9,567.3 1233.5,569.8 1234.1,572.3 1234.7,575.0 1235.3,577.8 1235.9,580.8 1236.5,583.8 1237.1,587.0 1237.7,590.2 1238.3,593.6 1238.9,597.0 1239.5,600.6 1240.0,604.2 1240.6,608.0 1241.2,611.8 1241.8,615.7 1242.4,619.7 1243.0,623.7 1243.6,627.9 1244.2,632.1 1244.8,636.3 1245.4,640.6 1246.0,645.0 1246.6,649.4 1247.2,653.8 1247.8,658.3 1248.4,662.8 1249.0,667.4 1249.6,672.0 1250.2,676.6 1250.7,681.2 1251.3,685.8 1251.9,690.4 1252.5,695.1 1253.1,699.7 1253.7,704.3 1254.3,709.0 1254.9,713.6 1255.5,718.2 1256.1,722.7 1256.7,727.2 1257.3,731.7 1257.9,736.2 1258.5,740.6 1259.1,745.0 1259.7,749.3 1260.3,753.6 1260.9,757.8 1261.4,761.9 1262.0,766.0 1262.6,770.0 1263.2,773.9 1263.8,777.8 1264.4,781.5 1265.0,785.2 1265.6,788.8 1266.2,792.3 1266.8,795.7 1267.4,799.0 1268.0,802.2 1268.6,805.3 1269.2,808.3 1269.8,811.1 1270.4,813.9 1271.0,816.5 1271.6,819.0 1272.1,821.4 1272.7,823.7 1273.3,825.8 1273.9,827.8 1274.5,829.7 1275.1,831.5 1275.7,833.1 1276.3,834.6 1276.9,835.9 1277.5,837.1 1278.1,838.2 1278.7,839.1 1279.3,839.9 1279.9,840.6 1280.5,841.1 1281.1,841.4 1281.7,841.6 1282.3,841.7 1282.8,841.7 1283.4,841.4 1284.0,841.1 1284.6,840.6 1285.2,840.0 1285.8,839.2 1286.4,838.3 1287.0,837.2 1287.6,836.0 1288.2,834.7 1288.8,833.2 1289.4,831.6 1290.0,829.9 1290.6,828.1 1291.2,826.1 1291.8,824.0 1292.4,821.7 1293.0,819.4 1293.5,816.9 1294.1,814.4 1294.7,811.7 1295.3,808.8 1295.9,805.9 1296.5,802.9 1297.1,799.8 1297.7,796.6 1298.3,793.3 1298.9,789.9 1299.5,786.4 1300.1,782.8 1300.7,779.2 1301.3,775.4 1301.9,771.6 1302.5,767.7 1303.1,763.8 1303.6,759.8 1304.2,755.7 1304.8,751.6 1305.4,747.5 1306.0,743.2 1306.6,739.0 1307.2,734.7 1307.8,730.4 1308.4,726.0 1309.0,721.7 1309.6,717.3 1310.2,712.9 1310.8,708.5 1311.4,704.0 1312.0,699.6 1312.6,695.2 1313.2,690.8 1313.8,686.4 1314.3,682.0 1314.9,677.6 1315.5,673.3 1316.1,668.9 1316.7,664.7 1317.3,660.4 1317.9,656.2 1318.5,652.0 1319.1,647.9 1319.7,643.9 1320.3,639.8 1320.9,635.9 1321.5,632.0 1322.1,628.2 1322.7,624.5 1323.3,620.8 1323.9,617.2 1324.5,613.7 1325.0,610.3 1325.6,607.0 1326.2,603.7 1326.8,600.6 1327.4,597.6 1328.0,594.6 1328.6,591.8 1329.2,589.1 1329.8,586.5 1330.4,584.0 1331.0,581.6 1331.6,579.3 1332.2,577.1 1332.8,575.1 1333.4,573.2 1334.0,571.4 1334.6,569.7 1335.2,568.2 1335.7,566.8 1336.3,565.5 1336.9,564.4 1337.5,563.4 1338.1,562.5 1338.7,561.8 1339.3,561.2 1339.9,560.7 1340.5,560.4 1341.1,560.2 1341.7,560.1 1342.3,560.2 1342.9,560.4 1343.5,560.7 1344.1,561.1 1344.7,561.7 1345.3,562.4 1345.9,563.2 1346.4,564.2 1347.0,565.3 1347.6,566.5 1348.2,567.9 1348.8,569.4 1349.4,571.0 1350.0,572.7 1350.6,574.6 1351.2,576.5 1351.8,578.6 1352.4,580.8 1353.0,583.2 1353.6,585.6 1354.2,588.2 1354.8,590.8 1355.4,593.6 1356.0,596.4 1356.6,599.4 1357.1,602.4 1357.7,605.6 1358.3,608.8 1358.9,612.1 1359.5,615.6 1360.1,619.0 1360.7,622.6 1361.3,626.2 1361.9,629.9 1362.5,633.7 1363.1,637.5 1363.7,641.4 1364.3,645.3 1364.9,649.3 1365.5,653.3 1366.1,657.4 1366.7,661.5 1367.3,665.7 1367.8,669.8 1368.4,674.0 1369.0,678.3 1369.6,682.5 1370.2,686.7 1370.8,691.0 1371.4,695.3 1372.0,699.5 1372.6,703.8" fill="none" stroke="#0000ff" stroke-width="3.3" stroke-linejoin="round" clip-path="url(#cc2)"/>
<path d="M778.20 853.30V847.30M778.20 541.50V547.50M1074.50 853.30V847.30M1074.50 541.50V547.50M1372.60 853.30V847.30M1372.60 541.50V547.50M778.20 853.30H784.20M1372.60 853.30H1366.60M778.20 775.50H784.20M1372.60 775.50H1366.60M778.20 697.70H784.20M1372.60 697.70H1366.60M778.20 620.00H784.20M1372.60 620.00H1366.60M778.20 541.50H784.20M1372.60 541.50H1366.60" stroke="#262626" stroke-width="1.2" fill="none"/>
<rect x="778.20" y="541.50" width="594.40" height="311.80" stroke="#262626" stroke-width="1.25" fill="none"/>
<g transform="matrix(0.9778 0 0 1.0067 764.82 878.10)"><text x="0" y="0" font-size="23.4" font-family="Liberation Serif, Times New Roman, serif" text-anchor="start" stroke="#000" stroke-width="0.45">-5</text></g>
<g transform="matrix(1.0200 0 0 0.9733 1075.50 878.00)"><text x="0" y="0" font-size="23.4" font-family="Liberation Serif, Times New Roman, serif" text-anchor="middle" stroke="#000" stroke-width="0.45">0</text></g>
<g transform="matrix(1.0200 0 0 0.9733 1373.60 878.00)"><text x="0" y="0" font-size="23.4" font-family="Liberation Serif, Times New Roman, serif" text-anchor="middle" stroke="#000" stroke-width="0.45">5</text></g>
<g transform="matrix(1.0000 0 0 1.0533 773.00 550.70)"><text x="0" y="0" font-size="23.4" font-family="Liberation Serif, Times New Roman, serif" text-anchor="end" stroke="#000" stroke-width="0.45">1</text></g>
<g transform="matrix(1.0000 0 0 1.0533 773.00 629.20)"><text x="0" y="0" font-size="23.4" font-family="Liberation Serif, Times New Roman, serif" text-anchor="end" stroke="#000" stroke-width="0.45">0.5</text></g>
<g transform="matrix(1.0000 0 0 1.0533 773.00 706.90)"><text x="0" y="0" font-size="23.4" font-family="Liberation Serif, Times New Roman, serif" text-anchor="end" stroke="#000" stroke-width="0.45">0</text></g>
<g transform="matrix(1.0000 0 0 1.0533 773.00 784.70)"><text x="0" y="0" font-size="23.4" font-family="Liberation Serif, Times New Roman, serif" text-anchor="end" stroke="#000" stroke-width="0.45">-0.5</text></g>
<g transform="matrix(1.0000 0 0 1.0533 773.00 862.50)"><text x="0" y="0" font-size="23.4" font-family="Liberation Serif, Times New Roman, serif" text-anchor="end" stroke="#000" stroke-width="0.45">-1</text></g>
<g transform="matrix(1.0278 0 0 0.9815 1026.80 909.11)"><text x="0" y="0" font-size="29" font-family="Liberation Serif, Times New Roman, serif" text-anchor="start" stroke="#000" stroke-width="0.45">Time(s)</text></g>
<g transform="matrix(0.9667 0 0 1.0098 718.60 851.10)"><text x="0" y="0" font-size="29" font-family="Liberation Serif, Times New Roman, serif" text-anchor="start" transform="rotate(-90)" stroke="#000" stroke-width="0.45">Normalized Amplitude(V)</text></g>
<g transform="matrix(0.9875 0 0 1.0667 1318.20 915.50)"><text x="0" y="0" font-size="23.4" font-family="Liberation Serif, Times New Roman, serif" text-anchor="start" stroke="#000" stroke-width="0.45">x 10</text></g>
<g transform="matrix(0.9846 0 0 1.0200 1359.80 898.80)"><text x="0" y="0" font-size="15.5" font-family="Liberation Serif, Times New Roman, serif" text-anchor="start" stroke="#000" stroke-width="0.45">-4</text></g>
<rect x="931.4" y="551.6" width="433.1" height="68.1" fill="#fff" stroke="#333" stroke-width="1.2"/>
<line x1="942.4" y1="569.4" x2="994.5" y2="569.4" stroke="#ff0000" stroke-width="2.9" stroke-dasharray="8.4 2.5"/>
<line x1="942.4" y1="599.7" x2="996.7" y2="599.7" stroke="#0000ff" stroke-width="3.1"/>
<g transform="matrix(1.0159 0 0 1.0353 1001.78 579.30)"><text x="0" y="0" font-size="25" font-family="Liberation Serif, Times New Roman, serif" text-anchor="start" stroke="#000" stroke-width="0.45">5 kHz sine wave</text></g>
<g transform="matrix(1.0149 0 0 0.9870 1001.79 612.47)"><text x="0" y="0" font-size="25" font-family="Liberation Serif, Times New Roman, serif" text-anchor="start" stroke="#000" stroke-width="0.45">5 kHz single frequecny component</text></g>
<defs><clipPath id="cc3"><rect x="1475.40" y="541.50" width="595.10" height="311.80"/></clipPath></defs>
<line x1="1772.30" y1="853.30" x2="1772.30" y2="541.50" stroke="#404040" stroke-width="1.3" stroke-dasharray="14.9 14.4"/>
<line x1="1475.40" y1="775.50" x2="2070.50" y2="775.50" stroke="#404040" stroke-width="1.3" stroke-dasharray="14.9 14.4"/>
<line x1="1475.40" y1="697.70" x2="2070.50" y2="697.70" stroke="#404040" stroke-width="1.3" stroke-dasharray="14.9 14.4"/>
<line x1="1475.40" y1="620.00" x2="2070.50" y2="620.00" stroke="#404040" stroke-width="1.3" stroke-dasharray="14.9 14.4"/>
<polyline points="1475.4,632.8 1476.0,627.5 1476.6,622.3 1477.2,617.2 1477.8,612.2 1478.4,607.4 1479.0,602.6 1479.6,598.0 1480.2,593.6 1480.8,589.3 1481.4,585.1 1481.9,581.1 1482.5,577.3 1483.1,573.6 1483.7,570.1 1484.3,566.8 1484.9,563.7 1485.5,560.8 1486.1,558.1 1486.7,555.5 1487.3,553.2 1487.9,551.1 1488.5,549.1 1489.1,547.4 1489.7,545.9 1490.3,544.6 1490.9,543.6 1491.5,542.7 1492.1,542.1 1492.7,541.7 1493.3,541.5 1493.8,541.5 1494.4,541.8 1495.0,542.3 1495.6,543.0 1496.2,543.9 1496.8,545.0 1497.4,546.4 1498.0,548.0 1498.6,549.7 1499.2,551.7 1499.8,553.9 1500.4,556.3 1501.0,558.9 1501.6,561.7 1502.2,564.7 1502.8,567.9 1503.4,571.3 1504.0,574.8 1504.6,578.5 1505.2,582.4 1505.8,586.5 1506.3,590.7 1506.9,595.0 1507.5,599.5 1508.1,604.2 1508.7,609.0 1509.3,613.9 1509.9,618.9 1510.5,624.0 1511.1,629.3 1511.7,634.6 1512.3,640.0 1512.9,645.5 1513.5,651.1 1514.1,656.7 1514.7,662.4 1515.3,668.2 1515.9,674.0 1516.5,679.8 1517.1,685.7 1517.7,691.5 1518.2,697.4 1518.8,703.3 1519.4,709.1 1520.0,715.0 1520.6,720.8 1521.2,726.6 1521.8,732.4 1522.4,738.1 1523.0,743.7 1523.6,749.3 1524.2,754.8 1524.8,760.2 1525.4,765.5 1526.0,770.8 1526.6,775.9 1527.2,780.9 1527.8,785.8 1528.4,790.6 1529.0,795.3 1529.6,799.8 1530.1,804.1 1530.7,808.3 1531.3,812.4 1531.9,816.3 1532.5,820.0 1533.1,823.5 1533.7,826.9 1534.3,830.1 1534.9,833.1 1535.5,835.9 1536.1,838.5 1536.7,840.9 1537.3,843.1 1537.9,845.1 1538.5,846.8 1539.1,848.4 1539.7,849.8 1540.3,850.9 1540.9,851.8 1541.5,852.5 1542.1,853.0 1542.6,853.3 1543.2,853.3 1543.8,853.1 1544.4,852.7 1545.0,852.1 1545.6,851.2 1546.2,850.2 1546.8,848.9 1547.4,847.4 1548.0,845.7 1548.6,843.7 1549.2,841.6 1549.8,839.3 1550.4,836.7 1551.0,834.0 1551.6,831.1 1552.2,828.0 1552.8,824.7 1553.4,821.2 1554.0,817.5 1554.5,813.7 1555.1,809.7 1555.7,805.5 1556.3,801.2 1556.9,796.8 1557.5,792.2 1558.1,787.4 1558.7,782.6 1559.3,777.6 1559.9,772.5 1560.5,767.3 1561.1,762.0 1561.7,756.6 1562.3,751.1 1562.9,745.6 1563.5,740.0 1564.1,734.3 1564.7,728.5 1565.3,722.8 1565.9,716.9 1566.5,711.1 1567.0,705.2 1567.6,699.4 1568.2,693.5 1568.8,687.6 1569.4,681.8 1570.0,675.9 1570.6,670.1 1571.2,664.3 1571.8,658.6 1572.4,653.0 1573.0,647.4 1573.6,641.8 1574.2,636.4 1574.8,631.0 1575.4,625.8 1576.0,620.6 1576.6,615.5 1577.2,610.6 1577.8,605.8 1578.4,601.1 1578.9,596.5 1579.5,592.1 1580.1,587.9 1580.7,583.8 1581.3,579.8 1581.9,576.0 1582.5,572.4 1583.1,569.0 1583.7,565.8 1584.3,562.7 1584.9,559.9 1585.5,557.2 1586.1,554.7 1586.7,552.4 1587.3,550.4 1587.9,548.5 1588.5,546.9 1589.1,545.5 1589.7,544.3 1590.3,543.3 1590.8,542.5 1591.4,541.9 1592.0,541.6 1592.6,541.5 1593.2,541.6 1593.8,541.9 1594.4,542.5 1595.0,543.3 1595.6,544.3 1596.2,545.5 1596.8,546.9 1597.4,548.5 1598.0,550.4 1598.6,552.4 1599.2,554.7 1599.8,557.2 1600.4,559.9 1601.0,562.7 1601.6,565.8 1602.2,569.0 1602.8,572.4 1603.3,576.0 1603.9,579.8 1604.5,583.8 1605.1,587.9 1605.7,592.1 1606.3,596.5 1606.9,601.1 1607.5,605.8 1608.1,610.6 1608.7,615.5 1609.3,620.6 1609.9,625.8 1610.5,631.0 1611.1,636.4 1611.7,641.8 1612.3,647.4 1612.9,653.0 1613.5,658.6 1614.1,664.3 1614.7,670.1 1615.2,675.9 1615.8,681.8 1616.4,687.6 1617.0,693.5 1617.6,699.4 1618.2,705.2 1618.8,711.1 1619.4,716.9 1620.0,722.8 1620.6,728.5 1621.2,734.3 1621.8,740.0 1622.4,745.6 1623.0,751.1 1623.6,756.6 1624.2,762.0 1624.8,767.3 1625.4,772.5 1626.0,777.6 1626.6,782.6 1627.2,787.4 1627.7,792.2 1628.3,796.8 1628.9,801.2 1629.5,805.5 1630.1,809.7 1630.7,813.7 1631.3,817.5 1631.9,821.2 1632.5,824.7 1633.1,828.0 1633.7,831.1 1634.3,834.0 1634.9,836.7 1635.5,839.3 1636.1,841.6 1636.7,843.7 1637.3,845.7 1637.9,847.4 1638.5,848.9 1639.1,850.2 1639.6,851.2 1640.2,852.1 1640.8,852.7 1641.4,853.1 1642.0,853.3 1642.6,853.3 1643.2,853.0 1643.8,852.5 1644.4,851.8 1645.0,850.9 1645.6,849.8 1646.2,848.4 1646.8,846.8 1647.4,845.1 1648.0,843.1 1648.6,840.9 1649.2,838.5 1649.8,835.9 1650.4,833.1 1651.0,830.1 1651.5,826.9 1652.1,823.5 1652.7,820.0 1653.3,816.3 1653.9,812.4 1654.5,808.3 1655.1,804.1 1655.7,799.8 1656.3,795.3 1656.9,790.6 1657.5,785.8 1658.1,780.9 1658.7,775.9 1659.3,770.8 1659.9,765.5 1660.5,760.2 1661.1,754.8 1661.7,749.3 1662.3,743.7 1662.9,738.1 1663.5,732.4 1664.0,726.6 1664.6,720.8 1665.2,715.0 1665.8,709.1 1666.4,703.3 1667.0,697.4 1667.6,691.5 1668.2,685.7 1668.8,679.8 1669.4,674.0 1670.0,668.2 1670.6,662.4 1671.2,656.7 1671.8,651.1 1672.4,645.5 1673.0,640.0 1673.6,634.6 1674.2,629.3 1674.8,624.0 1675.4,618.9 1675.9,613.9 1676.5,609.0 1677.1,604.2 1677.7,599.5 1678.3,595.0 1678.9,590.7 1679.5,586.5 1680.1,582.4 1680.7,578.5 1681.3,574.8 1681.9,571.3 1682.5,567.9 1683.1,564.7 1683.7,561.7 1684.3,558.9 1684.9,556.3 1685.5,553.9 1686.1,551.7 1686.7,549.7 1687.3,548.0 1687.9,546.4 1688.4,545.0 1689.0,543.9 1689.6,543.0 1690.2,542.3 1690.8,541.8 1691.4,541.5 1692.0,541.5 1692.6,541.7 1693.2,542.1 1693.8,542.7 1694.4,543.6 1695.0,544.6 1695.6,545.9 1696.2,547.4 1696.8,549.1 1697.4,551.1 1698.0,553.2 1698.6,555.5 1699.2,558.1 1699.8,560.8 1700.3,563.7 1700.9,566.8 1701.5,570.1 1702.1,573.6 1702.7,577.3 1703.3,581.1 1703.9,585.1 1704.5,589.3 1705.1,593.6 1705.7,598.0 1706.3,602.6 1706.9,607.4 1707.5,612.2 1708.1,617.2 1708.7,622.3 1709.3,627.5 1709.9,632.8 1710.5,638.2 1711.1,643.7 1711.7,649.2 1712.2,654.8 1712.8,660.5 1713.4,666.3 1714.0,672.0 1714.6,677.9 1715.2,683.7 1715.8,689.6 1716.4,695.4 1717.0,701.3 1717.6,707.2 1718.2,713.0 1718.8,718.9 1719.4,724.7 1720.0,730.5 1720.6,736.2 1721.2,741.8 1721.8,747.4 1722.4,753.0 1723.0,758.4 1723.6,763.8 1724.2,769.0 1724.7,774.2 1725.3,779.3 1725.9,784.2 1726.5,789.0 1727.1,793.7 1727.7,798.3 1728.3,802.7 1728.9,806.9 1729.5,811.0 1730.1,815.0 1730.7,818.8 1731.3,822.4 1731.9,825.8 1732.5,829.0 1733.1,832.1 1733.7,834.9 1734.3,837.6 1734.9,840.1 1735.5,842.4 1736.1,844.4 1736.6,846.3 1737.2,847.9 1737.8,849.3 1738.4,850.5 1739.0,851.5 1739.6,852.3 1740.2,852.9 1740.8,853.2 1741.4,853.3 1742.0,853.2 1742.6,852.9 1743.2,852.3 1743.8,851.5 1744.4,850.5 1745.0,849.3 1745.6,847.9 1746.2,846.3 1746.8,844.4 1747.4,842.4 1748.0,840.1 1748.6,837.6 1749.1,834.9 1749.7,832.1 1750.3,829.0 1750.9,825.8 1751.5,822.4 1752.1,818.8 1752.7,815.0 1753.3,811.0 1753.9,806.9 1754.5,802.7 1755.1,798.3 1755.7,793.7 1756.3,789.0 1756.9,784.2 1757.5,779.3 1758.1,774.2 1758.7,769.0 1759.3,763.8 1759.9,758.4 1760.5,753.0 1761.0,747.4 1761.6,741.8 1762.2,736.2 1762.8,730.5 1763.4,724.7 1764.0,718.9 1764.6,713.0 1765.2,707.2 1765.8,701.3 1766.4,695.4 1767.0,689.6 1767.6,683.7 1768.2,677.9 1768.8,672.0 1769.4,666.3 1770.0,660.5 1770.6,654.8 1771.2,649.2 1771.8,643.7 1772.4,638.2 1772.9,632.8 1773.5,627.5 1774.1,622.3 1774.7,617.2 1775.3,612.2 1775.9,607.4 1776.5,602.6 1777.1,598.0 1777.7,593.6 1778.3,589.3 1778.9,585.1 1779.5,581.1 1780.1,577.3 1780.7,573.6 1781.3,570.1 1781.9,566.8 1782.5,563.7 1783.1,560.8 1783.7,558.1 1784.3,555.5 1784.9,553.2 1785.4,551.1 1786.0,549.1 1786.6,547.4 1787.2,545.9 1787.8,544.6 1788.4,543.6 1789.0,542.7 1789.6,542.1 1790.2,541.7 1790.8,541.5 1791.4,541.5 1792.0,541.8 1792.6,542.3 1793.2,543.0 1793.8,543.9 1794.4,545.0 1795.0,546.4 1795.6,548.0 1796.2,549.7 1796.8,551.7 1797.3,553.9 1797.9,556.3 1798.5,558.9 1799.1,561.7 1799.7,564.7 1800.3,567.9 1800.9,571.3 1801.5,574.8 1802.1,578.5 1802.7,582.4 1803.3,586.5 1803.9,590.7 1804.5,595.0 1805.1,599.5 1805.7,604.2 1806.3,609.0 1806.9,613.9 1807.5,618.9 1808.1,624.0 1808.7,629.3 1809.3,634.6 1809.8,640.0 1810.4,645.5 1811.0,651.1 1811.6,656.7 1812.2,662.4 1812.8,668.2 1813.4,674.0 1814.0,679.8 1814.6,685.7 1815.2,691.5 1815.8,697.4 1816.4,703.3 1817.0,709.1 1817.6,715.0 1818.2,720.8 1818.8,726.6 1819.4,732.4 1820.0,738.1 1820.6,743.7 1821.2,749.3 1821.7,754.8 1822.3,760.2 1822.9,765.5 1823.5,770.8 1824.1,775.9 1824.7,780.9 1825.3,785.8 1825.9,790.6 1826.5,795.3 1827.1,799.8 1827.7,804.1 1828.3,808.3 1828.9,812.4 1829.5,816.3 1830.1,820.0 1830.7,823.5 1831.3,826.9 1831.9,830.1 1832.5,833.1 1833.1,835.9 1833.7,838.5 1834.2,840.9 1834.8,843.1 1835.4,845.1 1836.0,846.8 1836.6,848.4 1837.2,849.8 1837.8,850.9 1838.4,851.8 1839.0,852.5 1839.6,853.0 1840.2,853.3 1840.8,853.3 1841.4,853.1 1842.0,852.7 1842.6,852.1 1843.2,851.2 1843.8,850.2 1844.4,848.9 1845.0,847.4 1845.6,845.7 1846.1,843.7 1846.7,841.6 1847.3,839.3 1847.9,836.7 1848.5,834.0 1849.1,831.1 1849.7,828.0 1850.3,824.7 1850.9,821.2 1851.5,817.5 1852.1,813.7 1852.7,809.7 1853.3,805.5 1853.9,801.2 1854.5,796.8 1855.1,792.2 1855.7,787.4 1856.3,782.6 1856.9,777.6 1857.5,772.5 1858.0,767.3 1858.6,762.0 1859.2,756.6 1859.8,751.1 1860.4,745.6 1861.0,740.0 1861.6,734.3 1862.2,728.5 1862.8,722.8 1863.4,716.9 1864.0,711.1 1864.6,705.2 1865.2,699.4 1865.8,693.5 1866.4,687.6 1867.0,681.8 1867.6,675.9 1868.2,670.1 1868.8,664.3 1869.4,658.6 1870.0,653.0 1870.5,647.4 1871.1,641.8 1871.7,636.4 1872.3,631.0 1872.9,625.8 1873.5,620.6 1874.1,615.5 1874.7,610.6 1875.3,605.8 1875.9,601.1 1876.5,596.5 1877.1,592.1 1877.7,587.9 1878.3,583.8 1878.9,579.8 1879.5,576.0 1880.1,572.4 1880.7,569.0 1881.3,565.8 1881.9,562.7 1882.4,559.9 1883.0,557.2 1883.6,554.7 1884.2,552.4 1884.8,550.4 1885.4,548.5 1886.0,546.9 1886.6,545.5 1887.2,544.3 1887.8,543.3 1888.4,542.5 1889.0,541.9 1889.6,541.6 1890.2,541.5 1890.8,541.6 1891.4,541.9 1892.0,542.5 1892.6,543.3 1893.2,544.3 1893.8,545.5 1894.4,546.9 1894.9,548.5 1895.5,550.4 1896.1,552.4 1896.7,554.7 1897.3,557.2 1897.9,559.9 1898.5,562.7 1899.1,565.8 1899.7,569.0 1900.3,572.4 1900.9,576.0 1901.5,579.8 1902.1,583.8 1902.7,587.9 1903.3,592.1 1903.9,596.5 1904.5,601.1 1905.1,605.8 1905.7,610.6 1906.3,615.5 1906.8,620.6 1907.4,625.8 1908.0,631.0 1908.6,636.4 1909.2,641.8 1909.8,647.4 1910.4,653.0 1911.0,658.6 1911.6,664.3 1912.2,670.1 1912.8,675.9 1913.4,681.8 1914.0,687.6 1914.6,693.5 1915.2,699.4 1915.8,705.2 1916.4,711.1 1917.0,716.9 1917.6,722.8 1918.2,728.5 1918.7,734.3 1919.3,740.0 1919.9,745.6 1920.5,751.1 1921.1,756.6 1921.7,762.0 1922.3,767.3 1922.9,772.5 1923.5,777.6 1924.1,782.6 1924.7,787.4 1925.3,792.2 1925.9,796.8 1926.5,801.2 1927.1,805.5 1927.7,809.7 1928.3,813.7 1928.9,817.5 1929.5,821.2 1930.1,824.7 1930.7,828.0 1931.2,831.1 1931.8,834.0 1932.4,836.7 1933.0,839.3 1933.6,841.6 1934.2,843.7 1934.8,845.7 1935.4,847.4 1936.0,848.9 1936.6,850.2 1937.2,851.2 1937.8,852.1 1938.4,852.7 1939.0,853.1 1939.6,853.3 1940.2,853.3 1940.8,853.0 1941.4,852.5 1942.0,851.8 1942.6,850.9 1943.1,849.8 1943.7,848.4 1944.3,846.8 1944.9,845.1 1945.5,843.1 1946.1,840.9 1946.7,838.5 1947.3,835.9 1947.9,833.1 1948.5,830.1 1949.1,826.9 1949.7,823.5 1950.3,820.0 1950.9,816.3 1951.5,812.4 1952.1,808.3 1952.7,804.1 1953.3,799.8 1953.9,795.3 1954.5,790.6 1955.1,785.8 1955.6,780.9 1956.2,775.9 1956.8,770.8 1957.4,765.5 1958.0,760.2 1958.6,754.8 1959.2,749.3 1959.8,743.7 1960.4,738.1 1961.0,732.4 1961.6,726.6 1962.2,720.8 1962.8,715.0 1963.4,709.1 1964.0,703.3 1964.6,697.4 1965.2,691.5 1965.8,685.7 1966.4,679.8 1967.0,674.0 1967.5,668.2 1968.1,662.4 1968.7,656.7 1969.3,651.1 1969.9,645.5 1970.5,640.0 1971.1,634.6 1971.7,629.3 1972.3,624.0 1972.9,618.9 1973.5,613.9 1974.1,609.0 1974.7,604.2 1975.3,599.5 1975.9,595.0 1976.5,590.7 1977.1,586.5 1977.7,582.4 1978.3,578.5 1978.9,574.8 1979.4,571.3 1980.0,567.9 1980.6,564.7 1981.2,561.7 1981.8,558.9 1982.4,556.3 1983.0,553.9 1983.6,551.7 1984.2,549.7 1984.8,548.0 1985.4,546.4 1986.0,545.0 1986.6,543.9 1987.2,543.0 1987.8,542.3 1988.4,541.8 1989.0,541.5 1989.6,541.5 1990.2,541.7 1990.8,542.1 1991.4,542.7 1991.9,543.6 1992.5,544.6 1993.1,545.9 1993.7,547.4 1994.3,549.1 1994.9,551.1 1995.5,553.2 1996.1,555.5 1996.7,558.1 1997.3,560.8 1997.9,563.7 1998.5,566.8 1999.1,570.1 1999.7,573.6 2000.3,577.3 2000.9,581.1 2001.5,585.1 2002.1,589.3 2002.7,593.6 2003.3,598.0 2003.8,602.6 2004.4,607.4 2005.0,612.2 2005.6,617.2 2006.2,622.3 2006.8,627.5 2007.4,632.8 2008.0,638.2 2008.6,643.7 2009.2,649.2 2009.8,654.8 2010.4,660.5 2011.0,666.3 2011.6,672.0 2012.2,677.9 2012.8,683.7 2013.4,689.6 2014.0,695.4 2014.6,701.3 2015.2,707.2 2015.8,713.0 2016.3,718.9 2016.9,724.7 2017.5,730.5 2018.1,736.2 2018.7,741.8 2019.3,747.4 2019.9,753.0 2020.5,758.4 2021.1,763.8 2021.7,769.0 2022.3,774.2 2022.9,779.3 2023.5,784.2 2024.1,789.0 2024.7,793.7 2025.3,798.3 2025.9,802.7 2026.5,806.9 2027.1,811.0 2027.7,815.0 2028.2,818.8 2028.8,822.4 2029.4,825.8 2030.0,829.0 2030.6,832.1 2031.2,834.9 2031.8,837.6 2032.4,840.1 2033.0,842.4 2033.6,844.4 2034.2,846.3 2034.8,847.9 2035.4,849.3 2036.0,850.5 2036.6,851.5 2037.2,852.3 2037.8,852.9 2038.4,853.2 2039.0,853.3 2039.6,853.2 2040.1,852.9 2040.7,852.3 2041.3,851.5 2041.9,850.5 2042.5,849.3 2043.1,847.9 2043.7,846.3 2044.3,844.4 2044.9,842.4 2045.5,840.1 2046.1,837.6 2046.7,834.9 2047.3,832.1 2047.9,829.0 2048.5,825.8 2049.1,822.4 2049.7,818.8 2050.3,815.0 2050.9,811.0 2051.5,806.9 2052.1,802.7 2052.6,798.3 2053.2,793.7 2053.8,789.0 2054.4,784.2 2055.0,779.3 2055.6,774.2 2056.2,769.0 2056.8,763.8 2057.4,758.4 2058.0,753.0 2058.6,747.4 2059.2,741.8 2059.8,736.2 2060.4,730.5 2061.0,724.7 2061.6,718.9 2062.2,713.0 2062.8,707.2 2063.4,701.3 2064.0,695.4 2064.5,689.6 2065.1,683.7 2065.7,677.9 2066.3,672.0 2066.9,666.3 2067.5,660.5 2068.1,654.8 2068.7,649.2 2069.3,643.7 2069.9,638.2 2070.5,632.8" fill="none" stroke="#ff0000" stroke-width="3.1" stroke-linejoin="round" stroke-dasharray="8.4 2.5" clip-path="url(#cc3)"/>
<polyline points="1475.4,624.0 1476.0,619.7 1476.6,615.4 1477.2,611.2 1477.8,607.1 1478.4,603.2 1479.0,599.4 1479.6,595.7 1480.2,592.1 1480.8,588.7 1481.4,585.4 1481.9,582.3 1482.5,579.3 1483.1,576.5 1483.7,573.9 1484.3,571.4 1484.9,569.0 1485.5,566.9 1486.1,564.9 1486.7,563.1 1487.3,561.5 1487.9,560.0 1488.5,558.7 1489.1,557.7 1489.7,556.8 1490.3,556.1 1490.9,555.6 1491.5,555.2 1492.1,555.1 1492.7,555.2 1493.3,555.4 1493.8,555.9 1494.4,556.5 1495.0,557.3 1495.6,558.4 1496.2,559.7 1496.8,561.1 1497.4,562.8 1498.0,564.6 1498.6,566.6 1499.2,568.8 1499.8,571.2 1500.4,573.8 1501.0,576.5 1501.6,579.4 1502.2,582.5 1502.8,585.8 1503.4,589.2 1504.0,592.7 1504.6,596.4 1505.2,600.2 1505.8,604.2 1506.3,608.3 1506.9,612.6 1507.5,616.9 1508.1,621.4 1508.7,626.0 1509.3,630.6 1509.9,635.4 1510.5,640.3 1511.1,645.2 1511.7,650.2 1512.3,655.3 1512.9,660.5 1513.5,665.7 1514.1,671.0 1514.7,676.2 1515.3,681.6 1515.9,686.9 1516.5,692.3 1517.1,697.7 1517.7,703.0 1518.2,708.4 1518.8,713.8 1519.4,719.1 1520.0,724.4 1520.6,729.7 1521.2,735.0 1521.8,740.1 1522.4,745.3 1523.0,750.3 1523.6,755.3 1524.2,760.3 1524.8,765.1 1525.4,769.8 1526.0,774.5 1526.6,779.0 1527.2,783.4 1527.8,787.7 1528.4,791.9 1529.0,796.0 1529.6,799.9 1530.1,803.7 1530.7,807.3 1531.3,810.8 1531.9,814.1 1532.5,817.2 1533.1,820.2 1533.7,823.1 1534.3,825.7 1534.9,828.2 1535.5,830.5 1536.1,832.6 1536.7,834.5 1537.3,836.2 1537.9,837.8 1538.5,839.1 1539.1,840.3 1539.7,841.2 1540.3,842.0 1540.9,842.5 1541.5,842.8 1542.1,843.0 1542.6,842.9 1543.2,842.6 1543.8,842.2 1544.4,841.5 1545.0,840.6 1545.6,839.6 1546.2,838.4 1546.8,836.9 1547.4,835.3 1548.0,833.5 1548.6,831.4 1549.2,829.2 1549.8,826.8 1550.4,824.2 1551.0,821.4 1551.6,818.5 1552.2,815.3 1552.8,812.0 1553.4,808.6 1554.0,805.0 1554.5,801.2 1555.1,797.2 1555.7,793.2 1556.3,788.9 1556.9,784.6 1557.5,780.1 1558.1,775.5 1558.7,770.8 1559.3,766.0 1559.9,761.0 1560.5,756.0 1561.1,750.9 1561.7,745.7 1562.3,740.5 1562.9,735.1 1563.5,729.7 1564.1,724.3 1564.7,718.8 1565.3,713.3 1565.9,707.7 1566.5,702.2 1567.0,696.6 1567.6,691.0 1568.2,685.4 1568.8,679.8 1569.4,674.3 1570.0,668.8 1570.6,663.3 1571.2,657.8 1571.8,652.4 1572.4,647.1 1573.0,641.8 1573.6,636.6 1574.2,631.5 1574.8,626.4 1575.4,621.5 1576.0,616.6 1576.6,611.9 1577.2,607.3 1577.8,602.8 1578.4,598.4 1578.9,594.2 1579.5,590.1 1580.1,586.2 1580.7,582.4 1581.3,578.8 1581.9,575.3 1582.5,572.0 1583.1,568.9 1583.7,565.9 1584.3,563.2 1584.9,560.6 1585.5,558.2 1586.1,556.0 1586.7,554.0 1587.3,552.3 1587.9,550.7 1588.5,549.3 1589.1,548.1 1589.7,547.1 1590.3,546.4 1590.8,545.9 1591.4,545.5 1592.0,545.4 1592.6,545.5 1593.2,545.8 1593.8,546.4 1594.4,547.1 1595.0,548.1 1595.6,549.3 1596.2,550.7 1596.8,552.4 1597.4,554.2 1598.0,556.2 1598.6,558.4 1599.2,560.8 1599.8,563.5 1600.4,566.2 1601.0,569.2 1601.6,572.4 1602.2,575.7 1602.8,579.2 1603.3,582.9 1603.9,586.7 1604.5,590.7 1605.1,594.8 1605.7,599.1 1606.3,603.5 1606.9,608.1 1607.5,612.7 1608.1,617.5 1608.7,622.4 1609.3,627.4 1609.9,632.5 1610.5,637.7 1611.1,643.0 1611.7,648.4 1612.3,653.8 1612.9,659.3 1613.5,664.9 1614.1,670.5 1614.7,676.1 1615.2,681.8 1615.8,687.5 1616.4,693.2 1617.0,698.9 1617.6,704.6 1618.2,710.3 1618.8,716.0 1619.4,721.7 1620.0,727.3 1620.6,732.9 1621.2,738.4 1621.8,743.9 1622.4,749.4 1623.0,754.7 1623.6,760.0 1624.2,765.2 1624.8,770.3 1625.4,775.3 1626.0,780.2 1626.6,785.0 1627.2,789.7 1627.7,794.2 1628.3,798.6 1628.9,802.9 1629.5,807.0 1630.1,811.0 1630.7,814.8 1631.3,818.5 1631.9,822.0 1632.5,825.3 1633.1,828.4 1633.7,831.3 1634.3,834.1 1634.9,836.7 1635.5,839.1 1636.1,841.2 1636.7,843.2 1637.3,845.0 1637.9,846.6 1638.5,847.9 1639.1,849.1 1639.6,850.0 1640.2,850.8 1640.8,851.3 1641.4,851.6 1642.0,851.7 1642.6,851.5 1643.2,851.2 1643.8,850.6 1644.4,849.8 1645.0,848.8 1645.6,847.6 1646.2,846.2 1646.8,844.6 1647.4,842.7 1648.0,840.7 1648.6,838.5 1649.2,836.0 1649.8,833.4 1650.4,830.6 1651.0,827.6 1651.5,824.4 1652.1,821.0 1652.7,817.5 1653.3,813.8 1653.9,809.9 1654.5,805.8 1655.1,801.7 1655.7,797.3 1656.3,792.8 1656.9,788.2 1657.5,783.5 1658.1,778.6 1658.7,773.7 1659.3,768.6 1659.9,763.4 1660.5,758.1 1661.1,752.8 1661.7,747.3 1662.3,741.8 1662.9,736.2 1663.5,730.6 1664.0,724.9 1664.6,719.2 1665.2,713.5 1665.8,707.7 1666.4,701.9 1667.0,696.1 1667.6,690.3 1668.2,684.5 1668.8,678.7 1669.4,673.0 1670.0,667.3 1670.6,661.6 1671.2,656.0 1671.8,650.4 1672.4,644.9 1673.0,639.5 1673.6,634.1 1674.2,628.9 1674.8,623.7 1675.4,618.6 1675.9,613.7 1676.5,608.8 1677.1,604.1 1677.7,599.5 1678.3,595.1 1678.9,590.8 1679.5,586.6 1680.1,582.6 1680.7,578.7 1681.3,575.0 1681.9,571.5 1682.5,568.2 1683.1,565.0 1683.7,562.1 1684.3,559.2 1684.9,556.6 1685.5,554.2 1686.1,552.0 1686.7,550.0 1687.3,548.2 1687.9,546.6 1688.4,545.3 1689.0,544.1 1689.6,543.2 1690.2,542.4 1690.8,542.0 1691.4,541.7 1692.0,541.6 1692.6,541.8 1693.2,542.2 1693.8,542.8 1694.4,543.6 1695.0,544.7 1695.6,545.9 1696.2,547.4 1696.8,549.1 1697.4,551.1 1698.0,553.2 1698.6,555.5 1699.2,558.1 1699.8,560.8 1700.3,563.7 1700.9,566.8 1701.5,570.1 1702.1,573.6 1702.7,577.3 1703.3,581.1 1703.9,585.1 1704.5,589.3 1705.1,593.6 1705.7,598.0 1706.3,602.6 1706.9,607.4 1707.5,612.2 1708.1,617.2 1708.7,622.3 1709.3,627.5 1709.9,632.8 1710.5,638.2 1711.1,643.7 1711.7,649.2 1712.2,654.8 1712.8,660.5 1713.4,666.3 1714.0,672.0 1714.6,677.9 1715.2,683.7 1715.8,689.6 1716.4,695.4 1717.0,701.3 1717.6,707.2 1718.2,713.0 1718.8,718.9 1719.4,724.7 1720.0,730.5 1720.6,736.2 1721.2,741.8 1721.8,747.4 1722.4,753.0 1723.0,758.4 1723.6,763.8 1724.2,769.0 1724.7,774.2 1725.3,779.3 1725.9,784.2 1726.5,789.0 1727.1,793.7 1727.7,798.3 1728.3,802.7 1728.9,806.9 1729.5,811.0 1730.1,815.0 1730.7,818.8 1731.3,822.4 1731.9,825.8 1732.5,829.0 1733.1,832.1 1733.7,834.9 1734.3,837.6 1734.9,840.1 1735.5,842.4 1736.1,844.4 1736.6,846.3 1737.2,847.9 1737.8,849.3 1738.4,850.5 1739.0,851.5 1739.6,852.3 1740.2,852.9 1740.8,853.2 1741.4,853.3 1742.0,853.2 1742.6,852.9 1743.2,852.3 1743.8,851.5 1744.4,850.5 1745.0,849.3 1745.6,847.9 1746.2,846.3 1746.8,844.4 1747.4,842.4 1748.0,840.1 1748.6,837.6 1749.1,834.9 1749.7,832.1 1750.3,829.0 1750.9,825.8 1751.5,822.4 1752.1,818.8 1752.7,815.0 1753.3,811.0 1753.9,806.9 1754.5,802.7 1755.1,798.3 1755.7,793.7 1756.3,789.0 1756.9,784.2 1757.5,779.3 1758.1,774.2 1758.7,769.0 1759.3,763.8 1759.9,758.4 1760.5,753.0 1761.0,747.4 1761.6,741.8 1762.2,736.2 1762.8,730.5 1763.4,724.7 1764.0,718.9 1764.6,713.0 1765.2,707.2 1765.8,701.3 1766.4,695.4 1767.0,689.6 1767.6,683.7 1768.2,677.9 1768.8,672.0 1769.4,666.3 1770.0,660.5 1770.6,654.8 1771.2,649.2 1771.8,643.7 1772.4,638.2 1772.9,632.8 1773.5,627.5 1774.1,622.3 1774.7,617.2 1775.3,612.2 1775.9,607.4 1776.5,602.6 1777.1,598.0 1777.7,593.6 1778.3,589.3 1778.9,585.1 1779.5,581.1 1780.1,577.3 1780.7,573.6 1781.3,570.1 1781.9,566.8 1782.5,563.7 1783.1,560.8 1783.7,558.1 1784.3,555.5 1784.9,553.2 1785.4,551.1 1786.0,549.1 1786.6,547.4 1787.2,545.9 1787.8,544.6 1788.4,543.6 1789.0,542.7 1789.6,542.1 1790.2,541.7 1790.8,541.5 1791.4,541.5 1792.0,541.8 1792.6,542.3 1793.2,543.0 1793.8,543.9 1794.4,545.0 1795.0,546.4 1795.6,548.0 1796.2,549.7 1796.8,551.7 1797.3,553.9 1797.9,556.3 1798.5,558.9 1799.1,561.7 1799.7,564.7 1800.3,567.9 1800.9,571.3 1801.5,574.8 1802.1,578.5 1802.7,582.4 1803.3,586.5 1803.9,590.7 1804.5,595.0 1805.1,599.5 1805.7,604.2 1806.3,609.0 1806.9,613.9 1807.5,618.9 1808.1,624.0 1808.7,629.3 1809.3,634.6 1809.8,640.0 1810.4,645.5 1811.0,651.1 1811.6,656.7 1812.2,662.4 1812.8,668.2 1813.4,674.0 1814.0,679.8 1814.6,685.7 1815.2,691.5 1815.8,697.4 1816.4,703.3 1817.0,709.1 1817.6,715.0 1818.2,720.8 1818.8,726.6 1819.4,732.4 1820.0,738.1 1820.6,743.7 1821.2,749.3 1821.7,754.8 1822.3,760.2 1822.9,765.5 1823.5,770.8 1824.1,775.9 1824.7,780.9 1825.3,785.8 1825.9,790.6 1826.5,795.3 1827.1,799.8 1827.7,804.1 1828.3,808.3 1828.9,812.4 1829.5,816.3 1830.1,820.0 1830.7,823.5 1831.3,826.9 1831.9,830.1 1832.5,833.1 1833.1,835.9 1833.7,838.5 1834.2,840.9 1834.8,843.1 1835.4,845.1 1836.0,846.8 1836.6,848.4 1837.2,849.8 1837.8,850.9 1838.4,851.8 1839.0,852.5 1839.6,853.0 1840.2,853.3 1840.8,853.3 1841.4,853.1 1842.0,852.7 1842.6,852.1 1843.2,851.2 1843.8,850.2 1844.4,848.9 1845.0,847.3 1845.6,845.5 1846.1,843.5 1846.7,841.3 1847.3,838.9 1847.9,836.3 1848.5,833.5 1849.1,830.5 1849.7,827.3 1850.3,824.0 1850.9,820.5 1851.5,816.7 1852.1,812.9 1852.7,808.9 1853.3,804.7 1853.9,800.3 1854.5,795.9 1855.1,791.3 1855.7,786.5 1856.3,781.7 1856.9,776.7 1857.5,771.6 1858.0,766.4 1858.6,761.2 1859.2,755.8 1859.8,750.4 1860.4,744.9 1861.0,739.3 1861.6,733.7 1862.2,728.0 1862.8,722.3 1863.4,716.6 1864.0,710.9 1864.6,705.1 1865.2,699.3 1865.8,693.6 1866.4,687.8 1867.0,682.1 1867.6,676.4 1868.2,670.7 1868.8,665.1 1869.4,659.5 1870.0,654.0 1870.5,648.5 1871.1,643.2 1871.7,637.9 1872.3,632.7 1872.9,627.6 1873.5,622.6 1874.1,617.7 1874.7,613.0 1875.3,608.3 1875.9,603.8 1876.5,599.5 1877.1,595.2 1877.7,591.2 1878.3,587.2 1878.9,583.5 1879.5,579.9 1880.1,576.5 1880.7,573.2 1881.3,570.2 1881.9,567.3 1882.4,564.6 1883.0,562.1 1883.6,559.8 1884.2,557.7 1884.8,555.8 1885.4,554.1 1886.0,552.6 1886.6,551.3 1887.2,550.2 1887.8,549.3 1888.4,548.7 1889.0,548.2 1889.6,548.0 1890.2,548.0 1890.8,548.1 1891.4,548.5 1892.0,549.2 1892.6,550.0 1893.2,551.0 1893.8,552.2 1894.4,553.7 1894.9,555.3 1895.5,557.2 1896.1,559.2 1896.7,561.4 1897.3,563.9 1897.9,566.5 1898.5,569.3 1899.1,572.2 1899.7,575.4 1900.3,578.7 1900.9,582.2 1901.5,585.8 1902.1,589.6 1902.7,593.6 1903.3,597.7 1903.9,601.9 1904.5,606.3 1905.1,610.7 1905.7,615.4 1906.3,620.1 1906.8,624.9 1907.4,629.8 1908.0,634.8 1908.6,639.9 1909.2,645.1 1909.8,650.3 1910.4,655.6 1911.0,660.9 1911.6,666.3 1912.2,671.8 1912.8,677.2 1913.4,682.7 1914.0,688.2 1914.6,693.7 1915.2,699.2 1915.8,704.7 1916.4,710.2 1917.0,715.7 1917.6,721.1 1918.2,726.5 1918.7,731.8 1919.3,737.1 1919.9,742.3 1920.5,747.5 1921.1,752.6 1921.7,757.5 1922.3,762.5 1922.9,767.3 1923.5,772.0 1924.1,776.5 1924.7,781.0 1925.3,785.4 1925.9,789.6 1926.5,793.6 1927.1,797.6 1927.7,801.4 1928.3,805.0 1928.9,808.5 1929.5,811.8 1930.1,815.0 1930.7,818.0 1931.2,820.8 1931.8,823.4 1932.4,825.8 1933.0,828.1 1933.6,830.2 1934.2,832.1 1934.8,833.8 1935.4,835.3 1936.0,836.6 1936.6,837.7 1937.2,838.6 1937.8,839.2 1938.4,839.7 1939.0,840.0 1939.6,840.1 1940.2,840.0 1940.8,839.7 1941.4,839.2 1942.0,838.5 1942.6,837.5 1943.1,836.4 1943.7,835.1 1944.3,833.6 1944.9,831.9 1945.5,830.0 1946.1,827.9 1946.7,825.7 1947.3,823.2 1947.9,820.6 1948.5,817.8 1949.1,814.9 1949.7,811.8 1950.3,808.5 1950.9,805.0 1951.5,801.5 1952.1,797.7 1952.7,793.9 1953.3,789.9 1953.9,785.8 1954.5,781.5 1955.1,777.2 1955.6,772.7 1956.2,768.1 1956.8,763.5 1957.4,758.7 1958.0,753.9 1958.6,749.0 1959.2,744.0 1959.8,739.0 1960.4,733.9 1961.0,728.8 1961.6,723.6 1962.2,718.4 1962.8,713.1 1963.4,707.9 1964.0,702.7 1964.6,697.4 1965.2,692.2 1965.8,686.9 1966.4,681.7 1967.0,676.5 1967.5,671.4 1968.1,666.3 1968.7,661.2 1969.3,656.2 1969.9,651.3 1970.5,646.4 1971.1,641.6 1971.7,636.9 1972.3,632.3 1972.9,627.8 1973.5,623.4 1974.1,619.1 1974.7,614.9 1975.3,610.9 1975.9,607.0 1976.5,603.2 1977.1,599.5 1977.7,596.0 1978.3,592.6 1978.9,589.4 1979.4,586.3 1980.0,583.5 1980.6,580.7 1981.2,578.2 1981.8,575.8 1982.4,573.6 1983.0,571.6 1983.6,569.8 1984.2,568.1 1984.8,566.6 1985.4,565.4 1986.0,564.2 1986.6,563.3 1987.2,562.6 1987.8,562.0 1988.4,561.7 1989.0,561.5 1989.6,561.5 1990.2,561.7 1990.8,562.1 1991.4,562.7 1991.9,563.4 1992.5,564.4 1993.1,565.5 1993.7,566.8 1994.3,568.2 1994.9,569.9 1995.5,571.7 1996.1,573.7 1996.7,575.8 1997.3,578.2 1997.9,580.7 1998.5,583.3 1999.1,586.1 1999.7,589.1 2000.3,592.2 2000.9,595.4 2001.5,598.8 2002.1,602.3 2002.7,606.0 2003.3,609.8 2003.8,613.7 2004.4,617.7 2005.0,621.8 2005.6,626.0 2006.2,630.3 2006.8,634.7 2007.4,639.2 2008.0,643.7 2008.6,648.3 2009.2,653.0 2009.8,657.8 2010.4,662.6 2011.0,667.4 2011.6,672.3 2012.2,677.2 2012.8,682.1 2013.4,687.1 2014.0,692.1 2014.6,697.0 2015.2,702.0 2015.8,706.9 2016.3,711.9 2016.9,716.8 2017.5,721.6 2018.1,726.5 2018.7,731.3 2019.3,736.0 2019.9,740.7 2020.5,745.3 2021.1,749.9 2021.7,754.4 2022.3,758.8 2022.9,763.1 2023.5,767.3 2024.1,771.4 2024.7,775.4 2025.3,779.3 2025.9,783.1 2026.5,786.7 2027.1,790.3 2027.7,793.6 2028.2,796.9 2028.8,800.0 2029.4,803.0 2030.0,805.8 2030.6,808.5 2031.2,811.0 2031.8,813.4 2032.4,815.6 2033.0,817.6 2033.6,819.5 2034.2,821.2 2034.8,822.7 2035.4,824.0 2036.0,825.2 2036.6,826.2 2037.2,827.0 2037.8,827.6 2038.4,828.1 2039.0,828.4 2039.6,828.5 2040.1,828.4 2040.7,828.1 2041.3,827.7 2041.9,827.1 2042.5,826.4 2043.1,825.6 2043.7,824.5 2044.3,823.4 2044.9,822.0 2045.5,820.6 2046.1,818.9 2046.7,817.2 2047.3,815.3 2047.9,813.2 2048.5,811.0 2049.1,808.7 2049.7,806.2 2050.3,803.6 2050.9,800.9 2051.5,798.0 2052.1,795.1 2052.6,792.0 2053.2,788.8 2053.8,785.5 2054.4,782.1 2055.0,778.6 2055.6,775.0 2056.2,771.3 2056.8,767.5 2057.4,763.6 2058.0,759.6 2058.6,755.6 2059.2,751.5 2059.8,747.4 2060.4,743.2 2061.0,738.9 2061.6,734.6 2062.2,730.2 2062.8,725.8 2063.4,721.4 2064.0,717.0 2064.5,712.5 2065.1,708.0 2065.7,703.5 2066.3,699.0 2066.9,694.5 2067.5,690.0 2068.1,685.5 2068.7,681.0 2069.3,676.6 2069.9,672.1 2070.5,667.7" fill="none" stroke="#0000ff" stroke-width="3.3" stroke-linejoin="round" clip-path="url(#cc3)"/>
<path d="M1475.40 853.30V847.30M1475.40 541.50V547.50M1772.30 853.30V847.30M1772.30 541.50V547.50M2070.50 853.30V847.30M2070.50 541.50V547.50M1475.40 853.30H1481.40M2070.50 853.30H2064.50M1475.40 775.50H1481.40M2070.50 775.50H2064.50M1475.40 697.70H1481.40M2070.50 697.70H2064.50M1475.40 620.00H1481.40M2070.50 620.00H2064.50M1475.40 541.50H1481.40M2070.50 541.50H2064.50" stroke="#262626" stroke-width="1.2" fill="none"/>
<rect x="1475.40" y="541.50" width="595.10" height="311.80" stroke="#262626" stroke-width="1.25" fill="none"/>
<g transform="matrix(0.9778 0 0 1.0067 1462.32 878.10)"><text x="0" y="0" font-size="23.4" font-family="Liberation Serif, Times New Roman, serif" text-anchor="start" stroke="#000" stroke-width="0.45">-5</text></g>
<g transform="matrix(1.0200 0 0 0.9733 1773.00 878.00)"><text x="0" y="0" font-size="23.4" font-family="Liberation Serif, Times New Roman, serif" text-anchor="middle" stroke="#000" stroke-width="0.45">0</text></g>
<g transform="matrix(1.0200 0 0 0.9733 2071.20 878.00)"><text x="0" y="0" font-size="23.4" font-family="Liberation Serif, Times New Roman, serif" text-anchor="middle" stroke="#000" stroke-width="0.45">5</text></g>
<g transform="matrix(1.0000 0 0 1.0533 1470.50 550.70)"><text x="0" y="0" font-size="23.4" font-family="Liberation Serif, Times New Roman, serif" text-anchor="end" stroke="#000" stroke-width="0.45">1</text></g>
<g transform="matrix(1.0000 0 0 1.0533 1470.50 629.20)"><text x="0" y="0" font-size="23.4" font-family="Liberation Serif, Times New Roman, serif" text-anchor="end" stroke="#000" stroke-width="0.45">0.5</text></g>
<g transform="matrix(1.0000 0 0 1.0533 1470.50 706.90)"><text x="0" y="0" font-size="23.4" font-family="Liberation Serif, Times New Roman, serif" text-anchor="end" stroke="#000" stroke-width="0.45">0</text></g>
<g transform="matrix(1.0000 0 0 1.0533 1470.50 784.70)"><text x="0" y="0" font-size="23.4" font-family="Liberation Serif, Times New Roman, serif" text-anchor="end" stroke="#000" stroke-width="0.45">-0.5</text></g>
<g transform="matrix(1.0000 0 0 1.0533 1470.50 862.50)"><text x="0" y="0" font-size="23.4" font-family="Liberation Serif, Times New Roman, serif" text-anchor="end" stroke="#000" stroke-width="0.45">-1</text></g>
<g transform="matrix(1.0278 0 0 0.9815 1724.30 909.11)"><text x="0" y="0" font-size="29" font-family="Liberation Serif, Times New Roman, serif" text-anchor="start" stroke="#000" stroke-width="0.45">Time(s)</text></g>
<g transform="matrix(0.9667 0 0 1.0098 1416.10 851.10)"><text x="0" y="0" font-size="29" font-family="Liberation Serif, Times New Roman, serif" text-anchor="start" transform="rotate(-90)" stroke="#000" stroke-width="0.45">Normalized Amplitude(V)</text></g>
<g transform="matrix(0.9875 0 0 1.0667 2015.70 915.50)"><text x="0" y="0" font-size="23.4" font-family="Liberation Serif, Times New Roman, serif" text-anchor="start" stroke="#000" stroke-width="0.45">x 10</text></g>
<g transform="matrix(0.9846 0 0 1.0200 2057.30 898.80)"><text x="0" y="0" font-size="15.5" font-family="Liberation Serif, Times New Roman, serif" text-anchor="start" stroke="#000" stroke-width="0.45">-4</text></g>
<rect x="1628.9" y="551.6" width="433.1" height="68.1" fill="#fff" stroke="#333" stroke-width="1.2"/>
<line x1="1639.9" y1="569.4" x2="1692.0" y2="569.4" stroke="#ff0000" stroke-width="2.9" stroke-dasharray="8.4 2.5"/>
<line x1="1639.9" y1="599.7" x2="1694.2" y2="599.7" stroke="#0000ff" stroke-width="3.1"/>
<g transform="matrix(1.0159 0 0 1.0353 1699.28 579.30)"><text x="0" y="0" font-size="25" font-family="Liberation Serif, Times New Roman, serif" text-anchor="start" stroke="#000" stroke-width="0.45">6 kHz sine wave</text></g>
<g transform="matrix(1.0149 0 0 0.9870 1699.29 612.47)"><text x="0" y="0" font-size="25" font-family="Liberation Serif, Times New Roman, serif" text-anchor="start" stroke="#000" stroke-width="0.45">6 kHz single frequecny component</text></g>
<g transform="matrix(1.0023 0 0 0.9737 167.90 477.24)"><text x="0" y="0" font-size="40" font-family="Liberation Serif, Times New Roman, serif" text-anchor="start" stroke="#000" stroke-width="0.25">(a) The superposed signal of three sine waves.</text></g>
<g transform="matrix(1.0027 0 0 0.9737 1064.99 477.24)"><text x="0" y="0" font-size="40" font-family="Liberation Serif, Times New Roman, serif" text-anchor="start" stroke="#000" stroke-width="0.25">(b) Frequency responses of Shannon wavelet functions.</text></g>
<g transform="matrix(1.0011 0 0 0.9737 475.70 966.34)"><text x="0" y="0" font-size="40" font-family="Liberation Serif, Times New Roman, serif" text-anchor="start" stroke="#000" stroke-width="0.25">(c) Extracted single frequency components of 4 kHz, 5 kHz and 6 kHz.</text></g>
</svg>
</body></html>
